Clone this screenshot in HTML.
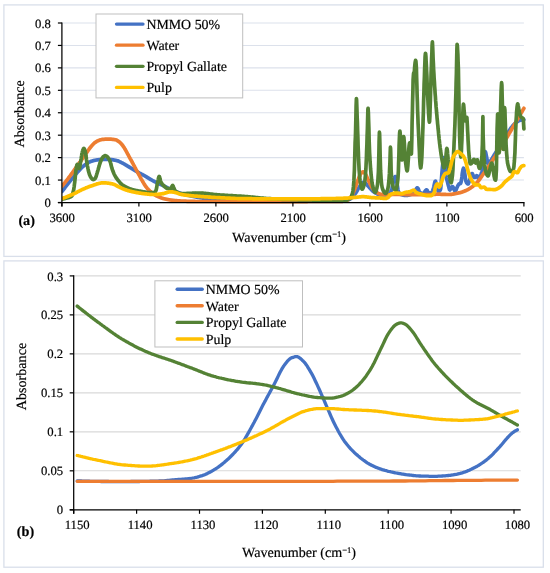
<!DOCTYPE html>
<html lang="en"><head><meta charset="utf-8"><title>FTIR absorbance spectra</title>
<style>
html,body{margin:0;padding:0;background:#fff;}
body{width:550px;height:573px;overflow:hidden;}
svg{display:block;}
text{font-family:"Liberation Serif","Times New Roman",Times,serif;fill:#000;stroke:#000;stroke-width:0.18px;text-rendering:geometricPrecision;}
.tk{font-size:12.7px;}
.lg{font-size:13.9px;}
.ttl{font-size:14.1px;}
.sup{font-size:8.6px;}
.pl{font-size:14.2px;font-weight:bold;}
</style></head><body>
<svg width="550" height="573" viewBox="0 0 550 573">
<rect x="0" y="0" width="550" height="573" fill="#fff"/>
<rect x="3.9" y="4.9" width="539.4" height="251.5" fill="#fff" stroke="#D9DFEA" stroke-width="1.3"/>
<rect x="3.9" y="260.9" width="539.4" height="306.3" fill="#fff" stroke="#D9DFEA" stroke-width="1.3"/>
<line x1="61.9" x2="523.9" y1="180.06" y2="180.06" stroke="#DCE1EB" stroke-width="1.1"/>
<line x1="61.9" x2="523.9" y1="157.62" y2="157.62" stroke="#DCE1EB" stroke-width="1.1"/>
<line x1="61.9" x2="523.9" y1="135.19" y2="135.19" stroke="#DCE1EB" stroke-width="1.1"/>
<line x1="61.9" x2="523.9" y1="112.75" y2="112.75" stroke="#DCE1EB" stroke-width="1.1"/>
<line x1="61.9" x2="523.9" y1="90.31" y2="90.31" stroke="#DCE1EB" stroke-width="1.1"/>
<line x1="61.9" x2="523.9" y1="67.88" y2="67.88" stroke="#DCE1EB" stroke-width="1.1"/>
<line x1="61.9" x2="523.9" y1="45.44" y2="45.44" stroke="#DCE1EB" stroke-width="1.1"/>
<line x1="61.9" x2="523.9" y1="23.00" y2="23.00" stroke="#DCE1EB" stroke-width="1.1"/>
<clipPath id="ct"><rect x="62" y="10" width="470" height="200"/></clipPath>
<g clip-path="url(#ct)">
<path d="M61.9,191.6 62.3,191.1 62.7,190.6 63.1,190.0 63.5,189.5 63.9,189.0 64.3,188.5 64.7,188.0 65.1,187.4 65.5,186.9 65.9,186.4 66.3,185.9 66.7,185.4 67.1,184.9 67.5,184.4 67.9,183.9 68.3,183.4 68.7,182.9 69.1,182.4 69.5,181.9 69.9,181.4 70.3,180.9 70.7,180.4 71.1,179.9 71.5,179.4 71.9,178.9 72.3,178.4 72.7,177.9 73.1,177.4 73.5,176.9 73.9,176.4 74.3,175.9 74.7,175.5 75.1,175.0 75.5,174.5 75.9,174.0 76.3,173.6 76.7,173.1 77.1,172.7 77.5,172.2 77.9,171.8 78.3,171.3 78.7,170.9 79.1,170.5 79.5,170.0 79.9,169.6 80.3,169.2 80.7,168.7 81.1,168.3 81.5,167.9 81.9,167.5 82.3,167.1 82.7,166.8 83.1,166.4 83.5,166.1 83.9,165.7 84.3,165.4 84.7,165.1 85.1,164.8 85.5,164.5 85.9,164.2 86.3,163.9 86.7,163.7 87.1,163.4 87.5,163.1 87.9,162.9 88.3,162.6 88.7,162.4 89.1,162.2 89.5,162.0 89.9,161.8 90.3,161.6 90.7,161.5 91.1,161.4 91.5,161.2 91.9,161.1 92.3,161.0 92.7,160.9 93.1,160.7 93.5,160.6 93.9,160.5 94.3,160.4 94.7,160.3 95.1,160.3 95.5,160.2 95.9,160.1 96.3,160.0 96.7,160.0 97.1,159.9 97.5,159.9 97.9,159.8 98.3,159.8 98.7,159.7 99.1,159.7 99.5,159.7 99.9,159.6 100.3,159.6 100.7,159.6 101.1,159.5 101.5,159.5 101.9,159.5 102.3,159.5 102.7,159.5 103.1,159.5 103.5,159.5 103.9,159.5 104.3,159.5 104.7,159.5 105.1,159.5 105.5,159.5 105.9,159.5 106.3,159.5 106.7,159.5 107.1,159.5 107.5,159.5 107.9,159.5 108.3,159.5 108.7,159.5 109.1,159.5 109.5,159.5 109.9,159.5 110.3,159.5 110.7,159.6 111.1,159.6 111.5,159.6 111.9,159.7 112.3,159.7 112.7,159.8 113.1,159.9 113.5,159.9 113.9,160.0 114.3,160.1 114.7,160.2 115.1,160.2 115.5,160.3 115.9,160.4 116.3,160.5 116.7,160.6 117.1,160.7 117.5,160.8 117.9,160.9 118.3,161.1 118.7,161.2 119.1,161.4 119.5,161.6 119.9,161.8 120.3,162.0 120.7,162.2 121.1,162.4 121.5,162.6 121.9,162.8 122.3,163.0 122.7,163.2 123.1,163.4 123.5,163.6 123.9,163.8 124.3,164.1 124.7,164.3 125.1,164.6 125.5,164.8 125.9,165.0 126.3,165.3 126.7,165.5 127.1,165.8 127.5,166.0 127.9,166.3 128.3,166.5 128.7,166.7 129.1,167.0 129.5,167.2 129.9,167.5 130.3,167.7 130.7,167.9 131.1,168.2 131.5,168.4 131.9,168.7 132.3,168.9 132.7,169.2 133.1,169.4 133.5,169.6 133.9,169.9 134.3,170.1 134.7,170.4 135.1,170.6 135.5,170.9 135.9,171.1 136.3,171.3 136.7,171.6 137.1,171.8 137.5,172.0 137.9,172.2 138.3,172.4 138.7,172.6 139.1,172.9 139.5,173.1 139.9,173.3 140.3,173.5 140.7,173.7 141.1,173.9 141.5,174.1 141.9,174.3 142.3,174.5 142.7,174.8 143.1,175.0 143.5,175.2 143.9,175.4 144.3,175.6 144.7,175.8 145.1,176.1 145.5,176.3 145.9,176.5 146.3,176.8 146.7,177.0 147.1,177.3 147.5,177.5 147.9,177.8 148.3,178.0 148.7,178.3 149.1,178.5 149.5,178.8 149.9,179.0 150.3,179.3 150.7,179.5 151.1,179.7 151.5,179.9 151.9,180.2 152.3,180.4 152.7,180.6 153.1,180.8 153.5,181.0 153.9,181.3 154.3,181.5 154.7,181.7 155.1,181.9 155.5,182.1 155.9,182.3 156.3,182.5 156.7,182.7 157.1,182.9 157.5,183.1 157.9,183.3 158.3,183.5 158.7,183.7 159.1,183.8 159.5,184.0 159.9,184.2 160.3,184.4 160.7,184.5 161.1,184.7 161.5,184.9 161.9,185.0 162.3,185.2 162.7,185.4 163.1,185.6 163.5,185.7 163.9,185.9 164.3,186.1 164.7,186.3 165.1,186.5 165.5,186.7 165.9,186.9 166.3,187.1 166.7,187.3 167.1,187.6 167.5,187.8 167.9,188.0 168.3,188.2 168.7,188.4 169.1,188.7 169.5,188.9 169.9,189.1 170.3,189.3 170.7,189.5 171.1,189.7 171.5,189.8 171.9,190.0 172.3,190.2 172.7,190.4 173.1,190.5 173.5,190.7 173.9,190.9 174.3,191.0 174.7,191.2 175.1,191.4 175.5,191.5 175.9,191.7 176.3,191.8 176.7,192.0 177.1,192.1 177.5,192.3 177.9,192.4 178.3,192.5 178.7,192.7 179.1,192.8 179.5,192.9 179.9,193.1 180.3,193.2 180.7,193.3 181.1,193.5 181.5,193.6 181.9,193.7 182.3,193.8 182.7,194.0 183.1,194.1 183.5,194.2 183.9,194.3 184.3,194.4 184.7,194.5 185.1,194.6 185.5,194.7 185.9,194.8 186.3,194.9 186.7,195.0 187.1,195.1 187.5,195.2 187.9,195.3 188.3,195.3 188.7,195.4 189.1,195.5 189.5,195.6 189.9,195.7 190.3,195.8 190.7,195.8 191.1,195.9 191.5,196.0 191.9,196.1 192.3,196.2 192.7,196.3 193.1,196.4 193.5,196.4 193.9,196.5 194.3,196.6 194.7,196.7 195.1,196.8 195.5,196.9 195.9,197.0 196.3,197.0 196.7,197.1 197.1,197.2 197.5,197.3 197.9,197.3 198.3,197.4 198.7,197.5 199.1,197.5 199.5,197.6 199.9,197.7 200.3,197.7 200.7,197.8 201.1,197.8 201.5,197.9 201.9,197.9 202.3,198.0 202.7,198.1 203.1,198.1 203.5,198.2 203.9,198.2 204.3,198.3 204.7,198.3 205.1,198.4 205.5,198.4 205.9,198.5 206.3,198.6 206.7,198.6 207.1,198.7 207.5,198.7 207.9,198.8 208.3,198.8 208.7,198.9 209.1,198.9 209.5,199.0 209.9,199.0 210.3,199.0 210.7,199.1 211.1,199.1 211.5,199.2 211.9,199.2 212.3,199.3 212.7,199.3 213.1,199.3 213.5,199.4 213.9,199.4 214.3,199.4 214.7,199.5 215.1,199.5 215.5,199.5 215.9,199.6 216.3,199.6 216.7,199.6 217.1,199.7 217.5,199.7 217.9,199.7 218.3,199.7 218.7,199.7 219.1,199.8 219.5,199.8 219.9,199.8 220.3,199.8 220.7,199.8 221.1,199.8 221.5,199.9 221.9,199.9 222.3,199.9 222.7,199.9 223.1,199.9 223.5,199.9 223.9,199.9 224.3,200.0 224.7,200.0 225.1,200.0 225.5,200.0 225.9,200.0 226.3,200.0 226.7,200.0 227.1,200.0 227.5,200.1 227.9,200.1 228.3,200.1 228.7,200.1 229.1,200.1 229.5,200.1 229.9,200.1 230.3,200.1 230.7,200.2 231.1,200.2 231.5,200.2 231.9,200.2 232.3,200.2 232.7,200.2 233.1,200.2 233.5,200.2 233.9,200.2 234.3,200.2 234.7,200.3 235.1,200.3 235.5,200.3 235.9,200.3 236.3,200.3 236.7,200.3 237.1,200.3 237.5,200.3 237.9,200.3 238.3,200.3 238.7,200.4 239.1,200.4 239.5,200.4 239.9,200.4 240.3,200.4 240.7,200.4 241.1,200.4 241.5,200.4 241.9,200.4 242.3,200.4 242.7,200.4 243.1,200.4 243.5,200.4 243.9,200.5 244.3,200.5 244.7,200.5 245.1,200.5 245.5,200.5 245.9,200.5 246.3,200.5 246.7,200.5 247.1,200.5 247.5,200.5 247.9,200.5 248.3,200.5 248.7,200.5 249.1,200.5 249.5,200.5 249.9,200.5 250.3,200.5 250.7,200.6 251.1,200.6 251.5,200.6 251.9,200.6 252.3,200.6 252.7,200.6 253.1,200.6 253.5,200.6 253.9,200.6 254.3,200.6 254.7,200.6 255.1,200.6 255.5,200.6 255.9,200.6 256.3,200.6 256.7,200.6 257.1,200.6 257.5,200.6 257.9,200.6 258.3,200.6 258.7,200.6 259.1,200.6 259.5,200.6 259.9,200.6 260.3,200.6 260.7,200.6 261.1,200.6 261.5,200.6 261.9,200.6 262.3,200.6 262.7,200.6 263.1,200.6 263.5,200.6 263.9,200.6 264.3,200.6 264.7,200.6 265.1,200.6 265.5,200.6 265.9,200.6 266.3,200.6 266.7,200.6 267.1,200.6 267.5,200.6 267.9,200.6 268.3,200.6 268.7,200.6 269.1,200.6 269.5,200.6 269.9,200.6 270.3,200.6 270.7,200.6 271.1,200.6 271.5,200.6 271.9,200.6 272.3,200.6 272.7,200.6 273.1,200.6 273.5,200.6 273.9,200.6 274.3,200.6 274.7,200.6 275.1,200.6 275.5,200.6 275.9,200.6 276.3,200.6 276.7,200.6 277.1,200.6 277.5,200.6 277.9,200.6 278.3,200.6 278.7,200.6 279.1,200.6 279.5,200.6 279.9,200.6 280.3,200.6 280.7,200.6 281.1,200.6 281.5,200.6 281.9,200.6 282.3,200.6 282.7,200.6 283.1,200.6 283.5,200.6 283.9,200.6 284.3,200.6 284.7,200.6 285.1,200.6 285.5,200.6 285.9,200.6 286.3,200.6 286.7,200.6 287.1,200.6 287.5,200.6 287.9,200.6 288.3,200.6 288.7,200.6 289.1,200.6 289.5,200.6 289.9,200.6 290.3,200.6 290.7,200.6 291.1,200.6 291.5,200.6 291.9,200.6 292.3,200.6 292.7,200.6 293.1,200.6 293.5,200.6 293.9,200.6 294.3,200.6 294.7,200.6 295.1,200.6 295.5,200.6 295.9,200.6 296.3,200.6 296.7,200.6 297.1,200.6 297.5,200.6 297.9,200.6 298.3,200.6 298.7,200.6 299.1,200.6 299.5,200.6 299.9,200.6 300.3,200.6 300.7,200.6 301.1,200.6 301.5,200.6 301.9,200.6 302.3,200.6 302.7,200.6 303.1,200.6 303.5,200.6 303.9,200.6 304.3,200.6 304.7,200.6 305.1,200.6 305.5,200.6 305.9,200.6 306.3,200.6 306.7,200.6 307.1,200.6 307.5,200.6 307.9,200.6 308.3,200.6 308.7,200.6 309.1,200.6 309.5,200.6 309.9,200.6 310.3,200.6 310.7,200.6 311.1,200.6 311.5,200.6 311.9,200.6 312.3,200.6 312.7,200.6 313.1,200.6 313.5,200.6 313.9,200.6 314.3,200.6 314.7,200.6 315.1,200.6 315.5,200.6 315.9,200.6 316.3,200.6 316.7,200.6 317.1,200.6 317.5,200.6 317.9,200.6 318.3,200.6 318.7,200.6 319.1,200.6 319.5,200.6 319.9,200.6 320.3,200.6 320.7,200.6 321.1,200.6 321.5,200.6 321.9,200.6 322.3,200.6 322.7,200.6 323.1,200.6 323.5,200.6 323.9,200.6 324.3,200.6 324.7,200.6 325.1,200.6 325.5,200.6 325.9,200.6 326.3,200.6 326.7,200.6 327.1,200.6 327.5,200.6 327.9,200.6 328.3,200.6 328.7,200.6 329.1,200.6 329.5,200.6 329.9,200.6 330.3,200.6 330.7,200.6 331.1,200.6 331.5,200.6 331.9,200.6 332.3,200.6 332.7,200.6 333.1,200.6 333.5,200.6 333.9,200.6 334.3,200.6 334.7,200.6 335.1,200.6 335.5,200.6 335.9,200.6 336.3,200.6 336.7,200.6 337.1,200.6 337.5,200.6 337.9,200.6 338.3,200.6 338.7,200.6 339.1,200.6 339.5,200.6 339.9,200.6 340.3,200.6 340.7,200.6 341.1,200.6 341.5,200.6 341.9,200.5 342.3,200.5 342.7,200.5 343.1,200.5 343.5,200.4 343.9,200.4 344.3,200.3 344.7,200.3 345.1,200.2 345.5,200.2 345.9,200.1 346.3,200.0 346.7,200.0 347.1,199.9 347.5,199.8 347.9,199.7 348.3,199.7 348.7,199.6 349.1,199.5 349.5,199.3 349.9,199.2 350.3,198.9 350.7,198.6 351.1,198.3 351.5,198.0 351.9,197.6 352.3,197.1 352.7,196.7 353.1,196.3 353.5,195.8 353.9,195.3 354.3,194.8 354.7,194.4 355.1,193.9 355.5,193.4 355.9,192.8 356.3,192.1 356.7,191.5 357.1,190.8 357.5,190.0 357.9,189.3 358.3,188.6 358.7,187.9 359.1,187.3 359.5,186.7 359.9,186.1 360.3,185.6 360.7,185.1 361.1,184.5 361.5,184.0 361.9,183.5 362.3,183.0 362.7,182.6 363.1,182.3 363.5,182.1 363.9,182.1 364.3,182.2 364.7,182.4 365.1,182.7 365.5,183.1 365.9,183.5 366.3,184.0 366.7,184.5 367.1,185.0 367.5,185.5 367.9,185.9 368.3,186.3 368.7,186.7 369.1,187.1 369.5,187.6 369.9,188.0 370.3,188.5 370.7,188.9 371.1,189.4 371.5,189.8 371.9,190.2 372.3,190.6 372.7,191.0 373.1,191.4 373.5,191.7 373.9,191.9 374.3,192.2 374.7,192.4 375.1,192.7 375.5,192.9 375.9,193.2 376.3,193.4 376.7,193.6 377.1,193.8 377.5,194.0 377.9,194.2 378.3,194.4 378.7,194.5 379.1,194.7 379.5,194.8 379.9,194.9 380.3,195.0 380.7,195.0 381.1,195.0 381.5,195.0 381.9,195.0 382.3,195.0 382.7,195.0 383.1,195.0 383.5,195.0 383.9,194.9 384.3,194.9 384.7,194.9 385.1,194.9 385.5,194.8 385.9,194.8 386.3,194.8 386.7,194.7 387.1,194.7 387.5,194.6 387.9,194.6 388.3,194.5 388.7,194.4 389.1,194.2 389.5,193.8 389.9,193.2 390.3,192.5 390.7,191.8 391.1,190.9 391.5,190.0 391.9,188.7 392.3,187.0 392.7,185.0 393.1,183.0 393.5,181.3 393.9,180.0 394.3,178.5 394.7,177.3 395.1,176.5 395.5,176.6 395.9,177.7 396.3,179.5 396.7,181.5 397.1,183.7 397.5,186.5 397.9,189.3 398.3,191.2 398.7,192.1 399.1,192.7 399.5,193.3 399.9,193.8 400.3,194.1 400.7,194.4 401.1,194.5 401.5,194.7 401.9,194.8 402.3,194.9 402.7,195.0 403.1,195.1 403.5,195.2 403.9,195.3 404.3,195.4 404.7,195.4 405.1,195.5 405.5,195.5 405.9,195.5 406.3,195.5 406.7,195.5 407.1,195.4 407.5,195.4 407.9,195.3 408.3,195.2 408.7,195.1 409.1,195.0 409.5,194.9 409.9,194.8 410.3,194.7 410.7,194.5 411.1,194.4 411.5,194.2 411.9,194.0 412.3,193.8 412.7,193.6 413.1,193.2 413.5,192.8 413.9,192.3 414.3,191.8 414.7,191.4 415.1,190.9 415.5,190.3 415.9,189.6 416.3,188.9 416.7,188.3 417.1,187.9 417.5,187.8 417.9,188.2 418.3,189.0 418.7,190.0 419.1,191.0 419.5,191.9 419.9,192.4 420.3,192.7 420.7,192.9 421.1,193.1 421.5,193.2 421.9,193.3 422.3,193.4 422.7,193.5 423.1,193.5 423.5,193.3 423.9,192.9 424.3,192.4 424.7,191.8 425.1,191.2 425.5,190.6 425.9,190.2 426.3,189.9 426.7,189.8 427.1,190.2 427.5,191.0 427.9,191.9 428.3,192.7 428.7,193.3 429.1,193.5 429.5,193.5 429.9,193.3 430.3,193.2 430.7,193.0 431.1,192.7 431.5,192.4 431.9,192.1 432.3,191.6 432.7,190.6 433.1,189.3 433.5,188.0 433.9,186.4 434.3,184.5 434.7,182.6 435.1,181.3 435.5,181.1 435.9,182.3 436.3,184.5 436.7,186.8 437.1,188.3 437.5,189.6 437.9,190.7 438.3,191.4 438.7,191.5 439.1,191.3 439.5,191.0 439.9,190.5 440.3,189.9 440.7,188.6 441.1,184.4 441.5,178.7 441.9,173.1 442.3,168.7 442.7,164.4 443.1,161.1 443.5,159.0 443.9,157.7 444.3,158.1 444.7,160.0 445.1,163.5 445.5,169.8 445.9,175.2 446.3,177.6 446.7,179.2 447.1,180.6 447.5,182.1 447.9,183.7 448.3,185.3 448.7,186.7 449.1,188.4 449.5,189.6 449.9,190.0 450.3,189.4 450.7,188.4 451.1,187.6 451.5,187.2 451.9,186.9 452.3,186.7 452.7,186.6 453.1,187.1 453.5,188.3 453.9,189.3 454.3,190.0 454.7,190.6 455.1,190.9 455.5,190.9 455.9,190.2 456.3,189.2 456.7,188.2 457.1,187.3 457.5,186.5 457.9,185.7 458.3,185.0 458.7,184.3 459.1,183.9 459.5,183.7 459.9,183.7 460.3,183.6 460.7,183.2 461.1,181.9 461.5,180.0 461.9,177.0 462.3,173.3 462.7,171.0 463.1,169.1 463.5,168.1 463.9,168.6 464.3,170.6 464.7,173.0 465.1,175.8 465.5,178.9 465.9,181.2 466.3,182.1 466.7,182.9 467.1,183.4 467.5,183.8 467.9,184.0 468.3,183.8 468.7,183.0 469.1,181.8 469.5,180.5 469.9,179.3 470.3,178.1 470.7,176.7 471.1,175.4 471.5,174.2 471.9,173.5 472.3,173.5 472.7,174.4 473.1,175.6 473.5,176.5 473.9,177.0 474.3,177.4 474.7,177.5 475.1,177.2 475.5,176.8 475.9,176.2 476.3,175.8 476.7,175.6 477.1,176.0 477.5,176.9 477.9,177.9 478.3,178.3 478.7,178.1 479.1,177.6 479.5,176.9 479.9,176.2 480.3,175.5 480.7,174.8 481.1,174.0 481.5,173.0 481.9,171.8 482.3,170.2 482.7,167.8 483.1,164.9 483.5,162.0 483.9,159.3 484.3,156.2 484.7,153.3 485.1,151.6 485.5,151.9 485.9,153.5 486.3,155.6 486.7,157.5 487.1,159.8 487.5,162.1 487.9,163.4 488.3,163.4 488.7,163.2 489.1,162.8 489.5,162.3 489.9,161.8 490.3,161.3 490.7,160.7 491.1,160.2 491.5,159.6 491.9,158.9 492.3,158.2 492.7,157.5 493.1,156.8 493.5,156.1 493.9,155.5 494.3,154.9 494.7,154.2 495.1,153.6 495.5,153.0 495.9,152.4 496.3,151.8 496.7,151.2 497.1,150.6 497.5,150.0 497.9,149.4 498.3,148.8 498.7,148.2 499.1,147.6 499.5,147.0 499.9,146.3 500.3,145.7 500.7,145.0 501.1,144.4 501.5,143.7 501.9,143.0 502.3,142.3 502.7,141.6 503.1,140.9 503.5,140.2 503.9,139.5 504.3,138.8 504.7,138.1 505.1,137.4 505.5,136.7 505.9,136.0 506.3,135.3 506.7,134.7 507.1,134.0 507.5,133.4 507.9,132.8 508.3,132.1 508.7,131.5 509.1,130.9 509.5,130.3 509.9,129.6 510.3,129.0 510.7,128.5 511.1,127.9 511.5,127.3 511.9,126.8 512.3,126.3 512.7,125.8 513.1,125.4 513.5,124.9 513.9,124.5 514.3,124.1 514.7,123.7 515.1,123.3 515.5,122.9 515.9,122.6 516.3,122.3 516.7,122.0 517.1,121.7 517.5,121.5 517.9,121.3 518.3,121.1 518.7,120.9 519.1,120.7 519.5,120.5 519.9,120.4 520.3,120.3 520.7,120.1 521.1,120.1 521.5,120.0 521.9,119.9 522.3,119.8 522.7,119.7 523.1,119.7 523.5,119.6 523.9,119.6 523.9,119.6" fill="none" stroke="#4472C4" stroke-width="3.7" stroke-linecap="round" stroke-linejoin="round"/>
<path d="M61.9,186.3 62.3,185.8 62.7,185.3 63.1,184.8 63.5,184.3 63.9,183.9 64.3,183.4 64.7,182.9 65.1,182.4 65.5,181.8 65.9,181.3 66.3,180.8 66.7,180.3 67.1,179.8 67.5,179.3 67.9,178.8 68.3,178.2 68.7,177.7 69.1,177.2 69.5,176.6 69.9,176.1 70.3,175.6 70.7,175.0 71.1,174.5 71.5,174.0 71.9,173.4 72.3,172.9 72.7,172.3 73.1,171.7 73.5,171.2 73.9,170.6 74.3,170.0 74.7,169.4 75.1,168.9 75.5,168.3 75.9,167.7 76.3,167.1 76.7,166.6 77.1,166.0 77.5,165.4 77.9,164.9 78.3,164.3 78.7,163.8 79.1,163.2 79.5,162.7 79.9,162.1 80.3,161.6 80.7,161.0 81.1,160.5 81.5,159.9 81.9,159.4 82.3,158.8 82.7,158.3 83.1,157.7 83.5,157.2 83.9,156.6 84.3,156.1 84.7,155.5 85.1,154.9 85.5,154.3 85.9,153.7 86.3,153.1 86.7,152.5 87.1,152.0 87.5,151.4 87.9,150.8 88.3,150.2 88.7,149.6 89.1,149.1 89.5,148.5 89.9,148.0 90.3,147.5 90.7,147.0 91.1,146.5 91.5,146.1 91.9,145.6 92.3,145.1 92.7,144.7 93.1,144.3 93.5,143.9 93.9,143.5 94.3,143.1 94.7,142.8 95.1,142.5 95.5,142.2 95.9,142.0 96.3,141.7 96.7,141.4 97.1,141.2 97.5,141.0 97.9,140.8 98.3,140.6 98.7,140.5 99.1,140.3 99.5,140.2 99.9,140.0 100.3,139.9 100.7,139.8 101.1,139.6 101.5,139.6 101.9,139.5 102.3,139.4 102.7,139.4 103.1,139.4 103.5,139.3 103.9,139.3 104.3,139.3 104.7,139.2 105.1,139.2 105.5,139.2 105.9,139.2 106.3,139.2 106.7,139.1 107.1,139.1 107.5,139.1 107.9,139.1 108.3,139.1 108.7,139.1 109.1,139.1 109.5,139.1 109.9,139.1 110.3,139.1 110.7,139.2 111.1,139.2 111.5,139.2 111.9,139.3 112.3,139.3 112.7,139.3 113.1,139.4 113.5,139.5 113.9,139.5 114.3,139.6 114.7,139.7 115.1,139.7 115.5,139.8 115.9,139.9 116.3,140.0 116.7,140.2 117.1,140.4 117.5,140.7 117.9,141.0 118.3,141.2 118.7,141.5 119.1,141.8 119.5,142.1 119.9,142.4 120.3,142.8 120.7,143.2 121.1,143.6 121.5,144.1 121.9,144.5 122.3,145.0 122.7,145.5 123.1,146.1 123.5,146.7 123.9,147.3 124.3,147.9 124.7,148.6 125.1,149.3 125.5,149.9 125.9,150.7 126.3,151.4 126.7,152.1 127.1,152.8 127.5,153.6 127.9,154.3 128.3,155.0 128.7,155.8 129.1,156.5 129.5,157.3 129.9,158.0 130.3,158.8 130.7,159.5 131.1,160.2 131.5,161.0 131.9,161.7 132.3,162.5 132.7,163.2 133.1,163.9 133.5,164.7 133.9,165.4 134.3,166.1 134.7,166.9 135.1,167.6 135.5,168.3 135.9,169.1 136.3,169.8 136.7,170.6 137.1,171.3 137.5,172.0 137.9,172.8 138.3,173.5 138.7,174.3 139.1,175.0 139.5,175.7 139.9,176.5 140.3,177.3 140.7,178.0 141.1,178.8 141.5,179.5 141.9,180.2 142.3,180.9 142.7,181.6 143.1,182.2 143.5,182.9 143.9,183.6 144.3,184.3 144.7,184.9 145.1,185.5 145.5,186.1 145.9,186.7 146.3,187.2 146.7,187.7 147.1,188.2 147.5,188.6 147.9,189.1 148.3,189.5 148.7,189.9 149.1,190.3 149.5,190.7 149.9,191.1 150.3,191.4 150.7,191.8 151.1,192.1 151.5,192.4 151.9,192.8 152.3,193.1 152.7,193.4 153.1,193.7 153.5,194.0 153.9,194.3 154.3,194.5 154.7,194.8 155.1,195.1 155.5,195.3 155.9,195.5 156.3,195.7 156.7,196.0 157.1,196.1 157.5,196.3 157.9,196.5 158.3,196.7 158.7,196.9 159.1,197.0 159.5,197.2 159.9,197.4 160.3,197.5 160.7,197.7 161.1,197.8 161.5,198.0 161.9,198.1 162.3,198.2 162.7,198.3 163.1,198.5 163.5,198.6 163.9,198.7 164.3,198.8 164.7,198.9 165.1,199.0 165.5,199.0 165.9,199.1 166.3,199.2 166.7,199.3 167.1,199.4 167.5,199.5 167.9,199.5 168.3,199.6 168.7,199.7 169.1,199.8 169.5,199.8 169.9,199.9 170.3,200.0 170.7,200.0 171.1,200.1 171.5,200.1 171.9,200.2 172.3,200.2 172.7,200.3 173.1,200.3 173.5,200.4 173.9,200.4 174.3,200.5 174.7,200.5 175.1,200.5 175.5,200.6 175.9,200.6 176.3,200.7 176.7,200.7 177.1,200.7 177.5,200.8 177.9,200.8 178.3,200.8 178.7,200.9 179.1,200.9 179.5,200.9 179.9,200.9 180.3,201.0 180.7,201.0 181.1,201.0 181.5,201.0 181.9,201.1 182.3,201.1 182.7,201.1 183.1,201.1 183.5,201.1 183.9,201.2 184.3,201.2 184.7,201.2 185.1,201.2 185.5,201.2 185.9,201.2 186.3,201.2 186.7,201.3 187.1,201.3 187.5,201.3 187.9,201.3 188.3,201.3 188.7,201.3 189.1,201.3 189.5,201.3 189.9,201.3 190.3,201.4 190.7,201.4 191.1,201.4 191.5,201.4 191.9,201.4 192.3,201.4 192.7,201.4 193.1,201.4 193.5,201.4 193.9,201.4 194.3,201.4 194.7,201.4 195.1,201.5 195.5,201.5 195.9,201.5 196.3,201.5 196.7,201.5 197.1,201.5 197.5,201.5 197.9,201.5 198.3,201.5 198.7,201.5 199.1,201.5 199.5,201.5 199.9,201.5 200.3,201.5 200.7,201.5 201.1,201.5 201.5,201.5 201.9,201.5 202.3,201.5 202.7,201.5 203.1,201.5 203.5,201.5 203.9,201.5 204.3,201.5 204.7,201.5 205.1,201.5 205.5,201.5 205.9,201.5 206.3,201.5 206.7,201.5 207.1,201.5 207.5,201.5 207.9,201.5 208.3,201.5 208.7,201.5 209.1,201.5 209.5,201.5 209.9,201.5 210.3,201.5 210.7,201.5 211.1,201.5 211.5,201.5 211.9,201.5 212.3,201.5 212.7,201.5 213.1,201.5 213.5,201.5 213.9,201.5 214.3,201.5 214.7,201.5 215.1,201.5 215.5,201.5 215.9,201.6 216.3,201.6 216.7,201.6 217.1,201.6 217.5,201.6 217.9,201.6 218.3,201.6 218.7,201.6 219.1,201.6 219.5,201.6 219.9,201.6 220.3,201.6 220.7,201.6 221.1,201.6 221.5,201.6 221.9,201.6 222.3,201.6 222.7,201.6 223.1,201.6 223.5,201.6 223.9,201.6 224.3,201.6 224.7,201.6 225.1,201.6 225.5,201.6 225.9,201.6 226.3,201.6 226.7,201.6 227.1,201.6 227.5,201.6 227.9,201.6 228.3,201.6 228.7,201.6 229.1,201.6 229.5,201.6 229.9,201.6 230.3,201.6 230.7,201.6 231.1,201.6 231.5,201.6 231.9,201.6 232.3,201.6 232.7,201.6 233.1,201.6 233.5,201.6 233.9,201.6 234.3,201.6 234.7,201.6 235.1,201.6 235.5,201.6 235.9,201.6 236.3,201.6 236.7,201.6 237.1,201.6 237.5,201.6 237.9,201.6 238.3,201.6 238.7,201.6 239.1,201.6 239.5,201.6 239.9,201.6 240.3,201.6 240.7,201.6 241.1,201.6 241.5,201.6 241.9,201.6 242.3,201.6 242.7,201.6 243.1,201.6 243.5,201.6 243.9,201.6 244.3,201.6 244.7,201.6 245.1,201.6 245.5,201.6 245.9,201.6 246.3,201.6 246.7,201.6 247.1,201.6 247.5,201.6 247.9,201.6 248.3,201.6 248.7,201.6 249.1,201.6 249.5,201.6 249.9,201.6 250.3,201.6 250.7,201.6 251.1,201.6 251.5,201.6 251.9,201.6 252.3,201.6 252.7,201.6 253.1,201.6 253.5,201.6 253.9,201.6 254.3,201.6 254.7,201.6 255.1,201.6 255.5,201.6 255.9,201.6 256.3,201.6 256.7,201.6 257.1,201.6 257.5,201.6 257.9,201.6 258.3,201.6 258.7,201.6 259.1,201.6 259.5,201.6 259.9,201.6 260.3,201.6 260.7,201.6 261.1,201.6 261.5,201.6 261.9,201.6 262.3,201.6 262.7,201.6 263.1,201.6 263.5,201.6 263.9,201.6 264.3,201.6 264.7,201.6 265.1,201.6 265.5,201.6 265.9,201.6 266.3,201.6 266.7,201.6 267.1,201.6 267.5,201.6 267.9,201.6 268.3,201.6 268.7,201.6 269.1,201.6 269.5,201.6 269.9,201.6 270.3,201.6 270.7,201.6 271.1,201.6 271.5,201.6 271.9,201.6 272.3,201.6 272.7,201.6 273.1,201.6 273.5,201.6 273.9,201.6 274.3,201.6 274.7,201.6 275.1,201.6 275.5,201.6 275.9,201.6 276.3,201.6 276.7,201.6 277.1,201.6 277.5,201.6 277.9,201.6 278.3,201.6 278.7,201.6 279.1,201.6 279.5,201.6 279.9,201.6 280.3,201.6 280.7,201.6 281.1,201.6 281.5,201.6 281.9,201.6 282.3,201.6 282.7,201.6 283.1,201.6 283.5,201.6 283.9,201.6 284.3,201.6 284.7,201.6 285.1,201.6 285.5,201.6 285.9,201.6 286.3,201.6 286.7,201.6 287.1,201.6 287.5,201.6 287.9,201.6 288.3,201.6 288.7,201.6 289.1,201.6 289.5,201.6 289.9,201.6 290.3,201.6 290.7,201.6 291.1,201.6 291.5,201.6 291.9,201.6 292.3,201.6 292.7,201.6 293.1,201.6 293.5,201.6 293.9,201.6 294.3,201.6 294.7,201.6 295.1,201.6 295.5,201.6 295.9,201.6 296.3,201.6 296.7,201.6 297.1,201.6 297.5,201.6 297.9,201.6 298.3,201.6 298.7,201.6 299.1,201.6 299.5,201.6 299.9,201.6 300.3,201.6 300.7,201.6 301.1,201.6 301.5,201.6 301.9,201.6 302.3,201.6 302.7,201.6 303.1,201.6 303.5,201.6 303.9,201.6 304.3,201.6 304.7,201.6 305.1,201.6 305.5,201.6 305.9,201.6 306.3,201.6 306.7,201.6 307.1,201.6 307.5,201.5 307.9,201.5 308.3,201.5 308.7,201.5 309.1,201.5 309.5,201.5 309.9,201.5 310.3,201.5 310.7,201.5 311.1,201.5 311.5,201.5 311.9,201.5 312.3,201.5 312.7,201.5 313.1,201.5 313.5,201.5 313.9,201.5 314.3,201.5 314.7,201.5 315.1,201.5 315.5,201.5 315.9,201.5 316.3,201.5 316.7,201.5 317.1,201.5 317.5,201.5 317.9,201.5 318.3,201.5 318.7,201.5 319.1,201.5 319.5,201.5 319.9,201.5 320.3,201.5 320.7,201.5 321.1,201.5 321.5,201.5 321.9,201.5 322.3,201.5 322.7,201.5 323.1,201.5 323.5,201.5 323.9,201.5 324.3,201.5 324.7,201.5 325.1,201.5 325.5,201.5 325.9,201.5 326.3,201.5 326.7,201.5 327.1,201.5 327.5,201.5 327.9,201.5 328.3,201.5 328.7,201.5 329.1,201.5 329.5,201.5 329.9,201.5 330.3,201.5 330.7,201.5 331.1,201.5 331.5,201.5 331.9,201.4 332.3,201.4 332.7,201.4 333.1,201.4 333.5,201.4 333.9,201.4 334.3,201.4 334.7,201.4 335.1,201.4 335.5,201.4 335.9,201.4 336.3,201.4 336.7,201.4 337.1,201.4 337.5,201.4 337.9,201.4 338.3,201.4 338.7,201.4 339.1,201.4 339.5,201.4 339.9,201.4 340.3,201.4 340.7,201.4 341.1,201.4 341.5,201.4 341.9,201.3 342.3,201.3 342.7,201.3 343.1,201.2 343.5,201.2 343.9,201.1 344.3,201.1 344.7,201.0 345.1,201.0 345.5,200.9 345.9,200.8 346.3,200.7 346.7,200.6 347.1,200.4 347.5,200.2 347.9,199.9 348.3,199.6 348.7,199.2 349.1,198.9 349.5,198.5 349.9,198.1 350.3,197.7 350.7,197.2 351.1,196.6 351.5,196.0 351.9,195.3 352.3,194.5 352.7,193.7 353.1,192.9 353.5,192.1 353.9,191.2 354.3,190.3 354.7,189.3 355.1,188.3 355.5,187.1 355.9,185.9 356.3,184.7 356.7,183.5 357.1,182.4 357.5,181.3 357.9,180.2 358.3,179.3 358.7,178.3 359.1,177.2 359.5,176.3 359.9,175.4 360.3,174.6 360.7,173.9 361.1,173.4 361.5,172.9 361.9,172.5 362.3,172.2 362.7,172.0 363.1,171.9 363.5,172.0 363.9,172.3 364.3,172.7 364.7,173.2 365.1,173.6 365.5,174.2 365.9,174.9 366.3,175.7 366.7,176.6 367.1,177.5 367.5,178.4 367.9,179.3 368.3,180.1 368.7,181.0 369.1,181.8 369.5,182.7 369.9,183.6 370.3,184.4 370.7,185.2 371.1,186.0 371.5,186.7 371.9,187.4 372.3,187.9 372.7,188.5 373.1,189.0 373.5,189.5 373.9,190.0 374.3,190.5 374.7,190.9 375.1,191.3 375.5,191.6 375.9,191.9 376.3,192.2 376.7,192.5 377.1,192.7 377.5,192.9 377.9,193.2 378.3,193.4 378.7,193.6 379.1,193.8 379.5,193.9 379.9,194.1 380.3,194.2 380.7,194.3 381.1,194.3 381.5,194.4 381.9,194.4 382.3,194.5 382.7,194.5 383.1,194.5 383.5,194.6 383.9,194.6 384.3,194.6 384.7,194.7 385.1,194.7 385.5,194.7 385.9,194.7 386.3,194.8 386.7,194.8 387.1,194.8 387.5,194.8 387.9,194.8 388.3,194.8 388.7,194.8 389.1,194.8 389.5,194.7 389.9,194.7 390.3,194.7 390.7,194.6 391.1,194.6 391.5,194.6 391.9,194.5 392.3,194.5 392.7,194.4 393.1,194.4 393.5,194.4 393.9,194.3 394.3,194.3 394.7,194.3 395.1,194.3 395.5,194.3 395.9,194.3 396.3,194.3 396.7,194.3 397.1,194.3 397.5,194.3 397.9,194.3 398.3,194.3 398.7,194.3 399.1,194.4 399.5,194.4 399.9,194.4 400.3,194.4 400.7,194.4 401.1,194.4 401.5,194.4 401.9,194.4 402.3,194.5 402.7,194.5 403.1,194.5 403.5,194.5 403.9,194.5 404.3,194.5 404.7,194.5 405.1,194.5 405.5,194.6 405.9,194.6 406.3,194.6 406.7,194.6 407.1,194.6 407.5,194.6 407.9,194.6 408.3,194.6 408.7,194.7 409.1,194.7 409.5,194.7 409.9,194.7 410.3,194.7 410.7,194.7 411.1,194.7 411.5,194.7 411.9,194.7 412.3,194.7 412.7,194.7 413.1,194.7 413.5,194.7 413.9,194.7 414.3,194.7 414.7,194.7 415.1,194.7 415.5,194.7 415.9,194.7 416.3,194.7 416.7,194.7 417.1,194.7 417.5,194.7 417.9,194.7 418.3,194.7 418.7,194.7 419.1,194.7 419.5,194.7 419.9,194.7 420.3,194.7 420.7,194.7 421.1,194.7 421.5,194.7 421.9,194.7 422.3,194.7 422.7,194.7 423.1,194.7 423.5,194.7 423.9,194.7 424.3,194.7 424.7,194.7 425.1,194.6 425.5,194.6 425.9,194.6 426.3,194.6 426.7,194.6 427.1,194.6 427.5,194.6 427.9,194.6 428.3,194.6 428.7,194.6 429.1,194.6 429.5,194.6 429.9,194.6 430.3,194.6 430.7,194.6 431.1,194.6 431.5,194.5 431.9,194.5 432.3,194.5 432.7,194.5 433.1,194.4 433.5,194.4 433.9,194.4 434.3,194.3 434.7,194.3 435.1,194.3 435.5,194.3 435.9,194.2 436.3,194.2 436.7,194.2 437.1,194.2 437.5,194.2 437.9,194.2 438.3,194.2 438.7,194.2 439.1,194.2 439.5,194.2 439.9,194.2 440.3,194.2 440.7,194.3 441.1,194.3 441.5,194.3 441.9,194.3 442.3,194.3 442.7,194.3 443.1,194.4 443.5,194.4 443.9,194.4 444.3,194.4 444.7,194.4 445.1,194.4 445.5,194.4 445.9,194.5 446.3,194.5 446.7,194.5 447.1,194.5 447.5,194.5 447.9,194.5 448.3,194.5 448.7,194.5 449.1,194.5 449.5,194.5 449.9,194.5 450.3,194.4 450.7,194.4 451.1,194.3 451.5,194.3 451.9,194.3 452.3,194.2 452.7,194.1 453.1,194.1 453.5,194.0 453.9,193.9 454.3,193.9 454.7,193.8 455.1,193.7 455.5,193.6 455.9,193.5 456.3,193.5 456.7,193.4 457.1,193.3 457.5,193.2 457.9,193.1 458.3,193.0 458.7,192.9 459.1,192.8 459.5,192.8 459.9,192.7 460.3,192.6 460.7,192.5 461.1,192.3 461.5,192.2 461.9,192.1 462.3,192.0 462.7,191.8 463.1,191.7 463.5,191.5 463.9,191.4 464.3,191.2 464.7,191.1 465.1,190.9 465.5,190.8 465.9,190.6 466.3,190.4 466.7,190.2 467.1,190.0 467.5,189.8 467.9,189.6 468.3,189.4 468.7,189.1 469.1,188.9 469.5,188.6 469.9,188.4 470.3,188.1 470.7,187.9 471.1,187.6 471.5,187.3 471.9,187.0 472.3,186.7 472.7,186.4 473.1,186.1 473.5,185.7 473.9,185.4 474.3,185.0 474.7,184.7 475.1,184.3 475.5,183.9 475.9,183.6 476.3,183.2 476.7,182.8 477.1,182.3 477.5,181.9 477.9,181.5 478.3,181.0 478.7,180.5 479.1,180.0 479.5,179.5 479.9,178.9 480.3,178.4 480.7,177.8 481.1,177.2 481.5,176.6 481.9,176.0 482.3,175.4 482.7,174.9 483.1,174.3 483.5,173.7 483.9,173.2 484.3,172.6 484.7,172.1 485.1,171.5 485.5,171.0 485.9,170.4 486.3,169.8 486.7,169.3 487.1,168.7 487.5,168.1 487.9,167.6 488.3,167.0 488.7,166.4 489.1,165.8 489.5,165.2 489.9,164.6 490.3,164.0 490.7,163.3 491.1,162.7 491.5,162.1 491.9,161.4 492.3,160.8 492.7,160.2 493.1,159.5 493.5,158.9 493.9,158.3 494.3,157.7 494.7,157.1 495.1,156.5 495.5,155.8 495.9,155.2 496.3,154.6 496.7,154.0 497.1,153.4 497.5,152.8 497.9,152.2 498.3,151.6 498.7,151.0 499.1,150.4 499.5,149.7 499.9,149.1 500.3,148.5 500.7,147.8 501.1,147.2 501.5,146.5 501.9,145.9 502.3,145.2 502.7,144.6 503.1,143.9 503.5,143.3 503.9,142.6 504.3,141.9 504.7,141.2 505.1,140.6 505.5,139.9 505.9,139.2 506.3,138.5 506.7,137.8 507.1,137.2 507.5,136.5 507.9,135.8 508.3,135.1 508.7,134.4 509.1,133.7 509.5,133.0 509.9,132.3 510.3,131.7 510.7,131.0 511.1,130.3 511.5,129.6 511.9,128.9 512.3,128.2 512.7,127.5 513.1,126.9 513.5,126.2 513.9,125.5 514.3,124.8 514.7,124.1 515.1,123.4 515.5,122.8 515.9,122.1 516.3,121.4 516.7,120.7 517.1,120.0 517.5,119.3 517.9,118.6 518.3,118.0 518.7,117.3 519.1,116.6 519.5,115.9 519.9,115.2 520.3,114.5 520.7,113.8 521.1,113.1 521.5,112.4 521.9,111.8 522.3,111.1 522.7,110.4 523.1,109.7 523.5,109.0 523.9,108.3 523.9,108.3" fill="none" stroke="#ED7D31" stroke-width="3.7" stroke-linecap="round" stroke-linejoin="round"/>
<path d="M61.9,199.2 62.1,199.2 62.4,199.1 62.6,199.0 62.9,199.0 63.1,198.9 63.4,198.9 63.6,198.8 63.9,198.8 64.2,198.7 64.4,198.6 64.7,198.6 64.9,198.5 65.2,198.4 65.4,198.4 65.7,198.3 65.9,198.2 66.2,198.2 66.4,198.1 66.7,198.0 66.9,198.0 67.2,197.9 67.4,197.9 67.7,197.8 67.9,197.7 68.2,197.7 68.4,197.6 68.7,197.6 68.9,197.5 69.2,197.4 69.4,197.3 69.7,197.2 69.9,197.1 70.2,197.0 70.4,196.9 70.7,196.8 70.9,196.7 71.2,196.5 71.4,196.3 71.7,196.2 71.9,195.8 72.2,195.3 72.4,194.7 72.7,193.9 72.9,193.0 73.2,192.0 73.4,191.0 73.7,189.8 73.9,188.2 74.2,186.5 74.4,184.6 74.7,182.6 74.9,180.3 75.2,177.8 75.4,175.1 75.7,172.5 75.9,170.4 76.2,168.7 76.4,167.3 76.7,165.9 76.9,164.9 77.2,164.4 77.4,164.6 77.7,165.1 77.9,165.9 78.2,166.7 78.4,167.2 78.7,167.8 78.9,168.2 79.2,168.5 79.4,168.3 79.7,167.4 79.9,166.0 80.2,164.5 80.4,163.0 80.7,161.7 80.9,160.2 81.2,158.5 81.4,156.9 81.7,155.2 81.9,153.8 82.2,152.6 82.4,151.7 82.7,150.8 82.9,150.0 83.2,149.3 83.4,148.8 83.7,148.5 83.9,148.4 84.2,148.7 84.4,149.2 84.7,149.8 84.9,150.6 85.2,151.5 85.4,152.4 85.7,153.7 85.9,155.4 86.2,157.3 86.4,159.3 86.7,161.2 86.9,162.9 87.2,164.4 87.4,165.8 87.7,167.1 87.9,168.4 88.2,169.7 88.4,170.8 88.7,171.8 88.9,172.6 89.2,173.4 89.4,174.2 89.7,174.9 89.9,175.5 90.2,176.1 90.4,176.6 90.7,177.1 90.9,177.4 91.2,177.8 91.4,178.1 91.7,178.5 91.9,178.8 92.2,179.0 92.4,179.3 92.7,179.4 92.9,179.5 93.2,179.6 93.4,179.6 93.7,179.5 93.9,179.4 94.2,179.2 94.4,179.1 94.7,178.8 94.9,178.6 95.2,178.4 95.4,178.0 95.7,177.5 95.9,176.9 96.2,176.2 96.4,175.4 96.7,174.5 96.9,173.6 97.2,172.8 97.4,172.0 97.7,171.2 97.9,170.4 98.2,169.5 98.4,168.6 98.7,167.7 98.9,166.8 99.2,165.9 99.4,165.1 99.7,164.2 99.9,163.5 100.2,162.7 100.4,162.0 100.7,161.4 100.9,160.8 101.2,160.3 101.4,159.7 101.7,159.1 101.9,158.6 102.2,158.2 102.4,157.7 102.7,157.4 102.9,157.1 103.2,156.9 103.4,156.6 103.7,156.4 103.9,156.2 104.2,156.1 104.4,155.9 104.7,155.8 104.9,155.7 105.2,155.7 105.4,155.7 105.7,155.8 105.9,155.9 106.2,156.0 106.4,156.1 106.7,156.3 106.9,156.5 107.2,156.7 107.4,156.9 107.7,157.1 107.9,157.4 108.2,157.7 108.4,158.1 108.7,158.5 108.9,158.9 109.2,159.4 109.4,159.9 109.7,160.5 109.9,161.0 110.2,161.7 110.4,162.5 110.7,163.4 110.9,164.4 111.2,165.4 111.4,166.4 111.7,167.3 111.9,168.2 112.2,169.1 112.4,169.8 112.7,170.5 112.9,171.1 113.2,171.8 113.4,172.4 113.7,173.0 113.9,173.6 114.2,174.1 114.4,174.6 114.7,175.1 114.9,175.6 115.2,176.1 115.4,176.5 115.7,176.9 115.9,177.3 116.2,177.7 116.4,178.1 116.7,178.4 116.9,178.8 117.2,179.1 117.4,179.4 117.7,179.8 117.9,180.1 118.2,180.4 118.4,180.7 118.7,181.0 118.9,181.3 119.2,181.6 119.4,181.9 119.7,182.2 119.9,182.5 120.2,182.8 120.4,183.1 120.7,183.3 120.9,183.6 121.2,183.8 121.4,184.1 121.7,184.3 121.9,184.5 122.2,184.7 122.4,184.9 122.7,185.0 122.9,185.2 123.2,185.4 123.4,185.5 123.7,185.7 123.9,185.9 124.2,186.0 124.4,186.2 124.7,186.3 124.9,186.5 125.2,186.6 125.4,186.8 125.7,186.9 125.9,187.0 126.2,187.2 126.4,187.3 126.7,187.4 126.9,187.5 127.2,187.7 127.4,187.8 127.7,187.9 127.9,188.0 128.2,188.1 128.4,188.2 128.7,188.3 128.9,188.4 129.2,188.5 129.4,188.6 129.7,188.7 129.9,188.8 130.2,188.9 130.4,189.0 130.7,189.1 130.9,189.1 131.2,189.2 131.4,189.3 131.7,189.4 131.9,189.4 132.2,189.5 132.4,189.6 132.7,189.7 132.9,189.7 133.2,189.8 133.4,189.9 133.7,189.9 133.9,190.0 134.2,190.0 134.4,190.1 134.7,190.2 134.9,190.2 135.2,190.3 135.4,190.3 135.7,190.4 135.9,190.4 136.2,190.5 136.4,190.5 136.7,190.6 136.9,190.6 137.2,190.7 137.4,190.7 137.7,190.8 137.9,190.8 138.2,190.9 138.4,190.9 138.7,191.0 138.9,191.0 139.2,191.1 139.4,191.1 139.7,191.1 139.9,191.2 140.2,191.2 140.4,191.3 140.7,191.3 140.9,191.4 141.2,191.4 141.4,191.4 141.7,191.5 141.9,191.5 142.2,191.6 142.4,191.6 142.7,191.7 142.9,191.7 143.2,191.8 143.4,191.8 143.7,191.8 143.9,191.9 144.2,191.9 144.4,192.0 144.7,192.0 144.9,192.1 145.2,192.1 145.4,192.2 145.7,192.2 145.9,192.3 146.2,192.3 146.4,192.4 146.7,192.4 146.9,192.4 147.2,192.5 147.4,192.5 147.7,192.5 147.9,192.6 148.2,192.6 148.4,192.6 148.7,192.6 148.9,192.7 149.2,192.7 149.4,192.7 149.7,192.7 149.9,192.7 150.2,192.7 150.4,192.7 150.7,192.7 150.9,192.7 151.2,192.7 151.4,192.7 151.7,192.7 151.9,192.7 152.2,192.7 152.4,192.7 152.7,192.7 152.9,192.7 153.2,192.7 153.4,192.7 153.7,192.7 153.9,192.7 154.2,192.7 154.4,192.6 154.7,192.4 154.9,192.2 155.2,191.8 155.4,191.4 155.7,191.0 155.9,190.5 156.2,189.8 156.4,188.8 156.7,187.5 156.9,186.1 157.2,184.7 157.4,183.4 157.7,182.3 157.9,181.1 158.2,179.8 158.4,178.6 158.7,177.5 158.9,176.8 159.2,176.4 159.4,176.6 159.7,177.4 159.9,178.5 160.2,179.7 160.4,180.7 160.7,181.4 160.9,182.0 161.2,182.5 161.4,183.0 161.7,183.4 161.9,183.7 162.2,184.1 162.4,184.4 162.7,184.7 162.9,184.9 163.2,185.2 163.4,185.4 163.7,185.6 163.9,185.9 164.2,186.1 164.4,186.4 164.7,186.6 164.9,186.9 165.2,187.1 165.4,187.3 165.7,187.5 165.9,187.7 166.2,187.9 166.4,188.1 166.7,188.2 166.9,188.3 167.2,188.3 167.4,188.4 167.7,188.5 167.9,188.5 168.2,188.6 168.4,188.6 168.7,188.7 168.9,188.7 169.2,188.7 169.4,188.8 169.7,188.8 169.9,188.8 170.2,188.8 170.4,188.8 170.7,188.6 170.9,188.3 171.2,188.0 171.4,187.6 171.7,187.3 171.9,186.7 172.2,186.1 172.4,185.6 172.7,185.5 172.9,185.8 173.2,186.3 173.4,187.0 173.7,187.7 173.9,188.2 174.2,188.8 174.4,189.4 174.7,190.0 174.9,190.5 175.2,190.9 175.4,191.1 175.7,191.3 175.9,191.5 176.2,191.6 176.4,191.8 176.7,192.0 176.9,192.1 177.2,192.3 177.4,192.4 177.7,192.6 177.9,192.7 178.2,192.8 178.4,192.9 178.7,193.0 178.9,193.1 179.2,193.2 179.4,193.3 179.7,193.4 179.9,193.4 180.2,193.5 180.4,193.5 180.7,193.6 180.9,193.6 181.2,193.6 181.4,193.6 181.7,193.6 181.9,193.6 182.2,193.6 182.4,193.6 182.7,193.6 182.9,193.6 183.2,193.6 183.4,193.6 183.7,193.6 183.9,193.6 184.2,193.5 184.4,193.5 184.7,193.5 184.9,193.5 185.2,193.5 185.4,193.5 185.7,193.5 185.9,193.5 186.2,193.5 186.4,193.5 186.7,193.4 186.9,193.4 187.2,193.4 187.4,193.4 187.7,193.4 187.9,193.4 188.2,193.4 188.4,193.4 188.7,193.4 188.9,193.4 189.2,193.3 189.4,193.3 189.7,193.3 189.9,193.3 190.2,193.3 190.4,193.3 190.7,193.3 190.9,193.3 191.2,193.3 191.4,193.3 191.7,193.3 191.9,193.3 192.2,193.3 192.4,193.2 192.7,193.2 192.9,193.2 193.2,193.2 193.4,193.2 193.7,193.2 193.9,193.2 194.2,193.2 194.4,193.2 194.7,193.2 194.9,193.2 195.2,193.2 195.4,193.2 195.7,193.2 195.9,193.1 196.2,193.1 196.4,193.1 196.7,193.1 196.9,193.1 197.2,193.1 197.4,193.1 197.7,193.1 197.9,193.1 198.2,193.1 198.4,193.1 198.7,193.1 198.9,193.1 199.2,193.1 199.4,193.1 199.7,193.1 199.9,193.1 200.2,193.1 200.4,193.1 200.7,193.1 200.9,193.1 201.2,193.1 201.4,193.1 201.7,193.1 201.9,193.2 202.2,193.2 202.4,193.2 202.7,193.2 202.9,193.2 203.2,193.2 203.4,193.3 203.7,193.3 203.9,193.3 204.2,193.3 204.4,193.3 204.7,193.4 204.9,193.4 205.2,193.4 205.4,193.4 205.7,193.4 205.9,193.5 206.2,193.5 206.4,193.5 206.7,193.6 206.9,193.6 207.2,193.6 207.4,193.6 207.7,193.7 207.9,193.7 208.2,193.7 208.4,193.8 208.7,193.8 208.9,193.8 209.2,193.8 209.4,193.9 209.7,193.9 209.9,193.9 210.2,194.0 210.4,194.0 210.7,194.0 210.9,194.1 211.2,194.1 211.4,194.1 211.7,194.2 211.9,194.2 212.2,194.2 212.4,194.2 212.7,194.3 212.9,194.3 213.2,194.3 213.4,194.4 213.7,194.4 213.9,194.4 214.2,194.5 214.4,194.5 214.7,194.5 214.9,194.5 215.2,194.6 215.4,194.6 215.7,194.6 215.9,194.6 216.2,194.7 216.4,194.7 216.7,194.7 216.9,194.7 217.2,194.8 217.4,194.8 217.7,194.8 217.9,194.8 218.2,194.8 218.4,194.9 218.7,194.9 218.9,194.9 219.2,194.9 219.4,194.9 219.7,194.9 219.9,195.0 220.2,195.0 220.4,195.0 220.7,195.0 220.9,195.0 221.2,195.0 221.4,195.1 221.7,195.1 221.9,195.1 222.2,195.1 222.4,195.1 222.7,195.1 222.9,195.2 223.2,195.2 223.4,195.2 223.7,195.2 223.9,195.2 224.2,195.2 224.4,195.3 224.7,195.3 224.9,195.3 225.2,195.3 225.4,195.3 225.7,195.3 225.9,195.3 226.2,195.4 226.4,195.4 226.7,195.4 226.9,195.4 227.2,195.4 227.4,195.4 227.7,195.4 227.9,195.5 228.2,195.5 228.4,195.5 228.7,195.5 228.9,195.5 229.2,195.5 229.4,195.5 229.7,195.6 229.9,195.6 230.2,195.6 230.4,195.6 230.7,195.6 230.9,195.6 231.2,195.6 231.4,195.7 231.7,195.7 231.9,195.7 232.2,195.7 232.4,195.7 232.7,195.7 232.9,195.7 233.2,195.8 233.4,195.8 233.7,195.8 233.9,195.8 234.2,195.8 234.4,195.8 234.7,195.8 234.9,195.9 235.2,195.9 235.4,195.9 235.7,195.9 235.9,195.9 236.2,195.9 236.4,195.9 236.7,196.0 236.9,196.0 237.2,196.0 237.4,196.0 237.7,196.0 237.9,196.0 238.2,196.0 238.4,196.1 238.7,196.1 238.9,196.1 239.2,196.1 239.4,196.1 239.7,196.1 239.9,196.2 240.2,196.2 240.4,196.2 240.7,196.2 240.9,196.2 241.2,196.2 241.4,196.3 241.7,196.3 241.9,196.3 242.2,196.3 242.4,196.3 242.7,196.3 242.9,196.4 243.2,196.4 243.4,196.4 243.7,196.4 243.9,196.4 244.2,196.4 244.4,196.5 244.7,196.5 244.9,196.5 245.2,196.5 245.4,196.5 245.7,196.5 245.9,196.6 246.2,196.6 246.4,196.6 246.7,196.6 246.9,196.6 247.2,196.7 247.4,196.7 247.7,196.7 247.9,196.7 248.2,196.8 248.4,196.8 248.7,196.8 248.9,196.8 249.2,196.8 249.4,196.9 249.7,196.9 249.9,196.9 250.2,196.9 250.4,197.0 250.7,197.0 250.9,197.0 251.2,197.0 251.4,197.1 251.7,197.1 251.9,197.1 252.2,197.1 252.4,197.2 252.7,197.2 252.9,197.2 253.2,197.2 253.4,197.3 253.7,197.3 253.9,197.3 254.2,197.3 254.4,197.4 254.7,197.4 254.9,197.4 255.2,197.4 255.4,197.5 255.7,197.5 255.9,197.5 256.1,197.5 256.4,197.6 256.6,197.6 256.9,197.6 257.1,197.6 257.4,197.7 257.6,197.7 257.9,197.7 258.1,197.7 258.4,197.8 258.6,197.8 258.9,197.8 259.1,197.8 259.4,197.9 259.6,197.9 259.9,197.9 260.1,197.9 260.4,198.0 260.6,198.0 260.9,198.0 261.1,198.0 261.4,198.0 261.6,198.1 261.9,198.1 262.1,198.1 262.4,198.1 262.6,198.2 262.9,198.2 263.1,198.2 263.4,198.2 263.6,198.2 263.9,198.3 264.1,198.3 264.4,198.3 264.6,198.3 264.9,198.4 265.1,198.4 265.4,198.4 265.6,198.4 265.9,198.4 266.1,198.5 266.4,198.5 266.6,198.5 266.9,198.5 267.1,198.5 267.4,198.5 267.6,198.6 267.9,198.6 268.1,198.6 268.4,198.6 268.6,198.6 268.9,198.6 269.1,198.7 269.4,198.7 269.6,198.7 269.9,198.7 270.1,198.7 270.4,198.7 270.6,198.7 270.9,198.7 271.1,198.8 271.4,198.8 271.6,198.8 271.9,198.8 272.1,198.8 272.4,198.8 272.6,198.8 272.9,198.8 273.1,198.9 273.4,198.9 273.6,198.9 273.9,198.9 274.1,198.9 274.4,198.9 274.6,198.9 274.9,198.9 275.1,199.0 275.4,199.0 275.6,199.0 275.9,199.0 276.1,199.0 276.4,199.0 276.6,199.0 276.9,199.0 277.1,199.0 277.4,199.1 277.6,199.1 277.9,199.1 278.1,199.1 278.4,199.1 278.6,199.1 278.9,199.1 279.1,199.1 279.4,199.1 279.6,199.2 279.9,199.2 280.1,199.2 280.4,199.2 280.6,199.2 280.9,199.2 281.1,199.2 281.4,199.2 281.6,199.2 281.9,199.2 282.1,199.3 282.4,199.3 282.6,199.3 282.9,199.3 283.1,199.3 283.4,199.3 283.6,199.3 283.9,199.3 284.1,199.3 284.4,199.3 284.6,199.4 284.9,199.4 285.1,199.4 285.4,199.4 285.6,199.4 285.9,199.4 286.1,199.4 286.4,199.4 286.6,199.4 286.9,199.4 287.1,199.4 287.4,199.5 287.6,199.5 287.9,199.5 288.1,199.5 288.4,199.5 288.6,199.5 288.9,199.5 289.1,199.5 289.4,199.5 289.6,199.5 289.9,199.5 290.1,199.5 290.4,199.6 290.6,199.6 290.9,199.6 291.1,199.6 291.4,199.6 291.6,199.6 291.9,199.6 292.1,199.6 292.4,199.6 292.6,199.6 292.9,199.6 293.1,199.6 293.4,199.6 293.6,199.6 293.9,199.7 294.1,199.7 294.4,199.7 294.6,199.7 294.9,199.7 295.1,199.7 295.4,199.7 295.6,199.7 295.9,199.7 296.1,199.7 296.4,199.7 296.6,199.7 296.9,199.7 297.1,199.7 297.4,199.7 297.6,199.7 297.9,199.8 298.1,199.8 298.4,199.8 298.6,199.8 298.9,199.8 299.1,199.8 299.4,199.8 299.6,199.8 299.9,199.8 300.1,199.8 300.4,199.8 300.6,199.8 300.9,199.8 301.1,199.8 301.4,199.8 301.6,199.8 301.9,199.8 302.1,199.8 302.4,199.9 302.6,199.9 302.9,199.9 303.1,199.9 303.4,199.9 303.6,199.9 303.9,199.9 304.1,199.9 304.4,199.9 304.6,199.9 304.9,199.9 305.1,199.9 305.4,199.9 305.6,199.9 305.9,199.9 306.1,199.9 306.4,199.9 306.6,199.9 306.9,199.9 307.1,199.9 307.4,200.0 307.6,200.0 307.9,200.0 308.1,200.0 308.4,200.0 308.6,200.0 308.9,200.0 309.1,200.0 309.4,200.0 309.6,200.0 309.9,200.0 310.1,200.0 310.4,200.0 310.6,200.0 310.9,200.0 311.1,200.0 311.4,200.0 311.6,200.0 311.9,200.0 312.1,200.0 312.4,200.1 312.6,200.1 312.9,200.1 313.1,200.1 313.4,200.1 313.6,200.1 313.9,200.1 314.1,200.1 314.4,200.1 314.6,200.1 314.9,200.1 315.1,200.1 315.4,200.1 315.6,200.1 315.9,200.1 316.1,200.1 316.4,200.1 316.6,200.1 316.9,200.1 317.1,200.1 317.4,200.1 317.6,200.1 317.9,200.1 318.1,200.2 318.4,200.2 318.6,200.2 318.9,200.2 319.1,200.2 319.4,200.2 319.6,200.2 319.9,200.2 320.1,200.2 320.4,200.2 320.6,200.2 320.9,200.2 321.1,200.2 321.4,200.2 321.6,200.2 321.9,200.2 322.1,200.2 322.4,200.2 322.6,200.2 322.9,200.2 323.1,200.2 323.4,200.2 323.6,200.2 323.9,200.2 324.1,200.2 324.4,200.2 324.6,200.2 324.9,200.2 325.1,200.2 325.4,200.2 325.6,200.3 325.9,200.3 326.1,200.3 326.4,200.3 326.6,200.3 326.9,200.3 327.1,200.3 327.4,200.3 327.6,200.3 327.9,200.3 328.1,200.3 328.4,200.3 328.6,200.3 328.9,200.3 329.1,200.3 329.4,200.3 329.6,200.3 329.9,200.3 330.1,200.3 330.4,200.3 330.6,200.3 330.9,200.3 331.1,200.3 331.4,200.3 331.6,200.3 331.9,200.3 332.1,200.3 332.4,200.3 332.6,200.3 332.9,200.3 333.1,200.3 333.4,200.3 333.6,200.3 333.9,200.3 334.1,200.3 334.4,200.3 334.6,200.3 334.9,200.3 335.1,200.3 335.4,200.3 335.6,200.3 335.9,200.3 336.1,200.3 336.4,200.3 336.6,200.3 336.9,200.3 337.1,200.3 337.4,200.3 337.6,200.3 337.9,200.3 338.1,200.3 338.4,200.3 338.6,200.3 338.9,200.3 339.1,200.3 339.4,200.3 339.6,200.3 339.9,200.3 340.1,200.3 340.4,200.3 340.6,200.3 340.9,200.3 341.1,200.3 341.4,200.3 341.6,200.3 341.9,200.3 342.1,200.3 342.4,200.3 342.6,200.3 342.9,200.3 343.1,200.3 343.4,200.3 343.6,200.3 343.9,200.3 344.1,200.3 344.4,200.3 344.6,200.3 344.9,200.3 345.1,200.3 345.4,200.3 345.6,200.3 345.9,200.3 346.1,200.3 346.4,200.2 346.6,200.1 346.9,200.1 347.1,200.0 347.4,199.8 347.6,199.7 347.9,199.6 348.1,199.5 348.4,199.3 348.6,199.2 348.9,199.1 349.1,198.9 349.4,198.8 349.6,198.6 349.9,198.4 350.1,198.2 350.4,197.9 350.6,197.6 350.9,197.3 351.1,196.9 351.4,196.4 351.6,195.8 351.9,195.2 352.1,194.5 352.4,193.6 352.6,192.5 352.9,191.0 353.1,189.2 353.4,187.0 353.6,184.4 353.9,180.9 354.1,176.1 354.4,170.3 354.6,162.1 354.9,151.5 355.1,143.1 355.4,137.1 355.6,130.0 355.9,117.2 356.1,106.3 356.4,98.5 356.6,99.9 356.9,108.5 357.1,115.6 357.4,122.6 357.6,130.0 357.9,138.1 358.1,146.0 358.4,153.0 358.6,159.7 358.9,165.4 359.1,169.8 359.4,173.3 359.6,176.3 359.9,178.9 360.1,181.0 360.4,182.6 360.6,184.0 360.9,185.3 361.1,186.5 361.4,187.6 361.6,188.4 361.9,189.0 362.1,189.2 362.4,189.1 362.6,188.9 362.9,188.5 363.1,187.9 363.4,187.2 363.6,186.4 363.9,185.5 364.1,184.5 364.4,183.4 364.6,182.2 364.9,180.5 365.1,178.3 365.4,175.6 365.6,172.5 365.9,169.0 366.1,164.4 366.4,158.4 366.6,151.6 366.9,144.6 367.1,136.9 367.4,128.6 367.6,120.0 367.9,109.1 368.1,108.3 368.4,113.4 368.6,120.0 368.9,128.8 369.1,139.4 369.4,147.2 369.6,152.9 369.9,157.8 370.1,162.0 370.4,165.8 370.6,169.0 370.9,172.0 371.1,174.8 371.4,177.3 371.6,179.6 371.9,181.6 372.1,183.2 372.4,184.5 372.6,185.6 372.9,186.6 373.1,187.7 373.4,188.6 373.6,189.5 373.9,190.3 374.1,190.9 374.4,191.5 374.6,191.9 374.9,192.2 375.1,192.3 375.4,192.2 375.6,191.9 375.9,191.5 376.1,190.8 376.4,190.0 376.6,189.0 376.9,188.0 377.1,186.8 377.4,185.4 377.6,183.4 377.9,180.5 378.1,176.8 378.4,172.1 378.6,165.0 378.9,152.7 379.1,141.8 379.4,132.2 379.6,133.7 379.9,144.1 380.1,153.9 380.4,164.2 380.6,171.0 380.9,175.4 381.1,179.1 381.4,182.1 381.6,184.4 381.9,186.0 382.1,187.2 382.4,188.2 382.6,189.0 382.9,189.7 383.1,190.3 383.4,190.8 383.6,191.3 383.9,191.7 384.1,192.1 384.4,192.4 384.6,192.8 384.9,193.0 385.1,193.2 385.4,193.4 385.6,193.4 385.9,193.3 386.1,193.1 386.4,192.7 386.6,192.2 386.9,191.7 387.1,191.0 387.4,190.3 387.6,189.5 387.9,188.6 388.1,187.3 388.4,185.6 388.6,183.5 388.9,181.1 389.1,178.1 389.4,173.9 389.6,169.0 389.9,163.2 390.1,156.4 390.4,147.2 390.6,148.7 390.9,159.8 391.1,170.1 391.4,174.6 391.6,177.7 391.9,180.0 392.1,181.9 392.4,183.6 392.6,185.0 392.9,186.1 393.1,186.9 393.4,187.4 393.6,187.9 393.9,188.4 394.1,188.8 394.4,189.2 394.6,189.5 394.9,189.8 395.1,190.0 395.4,190.1 395.6,190.2 395.9,190.2 396.1,189.7 396.4,188.9 396.6,187.7 396.9,186.4 397.1,184.9 397.4,183.4 397.6,181.4 397.9,178.9 398.1,175.7 398.4,170.8 398.6,163.2 398.9,155.0 399.1,145.8 399.4,138.0 399.6,133.3 399.9,131.0 400.1,132.5 400.4,135.7 400.6,139.3 400.9,144.2 401.1,149.2 401.4,153.6 401.6,158.0 401.9,160.0 402.1,158.0 402.4,153.6 402.6,149.2 402.9,144.6 403.1,140.5 403.4,138.1 403.6,136.6 403.9,137.4 404.1,140.2 404.4,143.7 404.6,147.1 404.9,151.4 405.1,155.8 405.4,159.8 405.6,162.4 405.9,164.5 406.1,166.4 406.4,168.1 406.6,169.4 406.9,170.4 407.1,170.8 407.4,170.2 407.6,168.3 407.9,165.4 408.1,162.0 408.4,158.4 408.6,153.1 408.9,148.2 409.1,145.7 409.4,143.8 409.6,142.8 409.9,143.2 410.1,144.6 410.4,146.3 410.6,148.2 410.9,150.7 411.1,153.0 411.4,154.0 411.6,148.4 411.9,135.7 412.1,122.2 412.4,111.6 412.6,101.2 412.9,90.6 413.1,80.2 413.4,75.4 413.6,73.3 413.9,72.7 414.1,72.3 414.4,71.1 414.6,67.6 414.9,64.5 415.1,62.6 415.4,61.1 415.6,60.3 415.9,61.1 416.1,63.9 416.4,68.1 416.6,76.6 416.9,86.0 417.1,94.4 417.4,102.8 417.6,110.8 417.9,117.6 418.1,123.7 418.4,129.3 418.6,134.6 418.9,139.8 419.1,145.4 419.4,151.5 419.6,157.3 419.9,161.8 420.1,164.5 420.4,166.8 420.6,168.0 420.9,167.5 421.1,165.8 421.4,163.3 421.6,160.4 421.9,156.1 422.1,150.2 422.4,143.3 422.6,135.7 422.9,128.0 423.1,120.3 423.4,111.5 423.6,102.1 423.9,92.9 424.1,84.4 424.4,77.2 424.6,69.7 424.9,62.4 425.1,56.6 425.4,53.3 425.6,53.5 425.9,56.4 426.1,60.9 426.4,66.1 426.6,70.9 426.9,76.4 427.1,82.6 427.4,89.0 427.6,95.0 427.9,100.0 428.1,104.6 428.4,109.3 428.6,113.8 428.9,117.7 429.1,120.6 429.4,122.2 429.6,121.3 429.9,115.9 430.1,108.1 430.4,100.0 430.6,91.5 430.9,82.0 431.1,73.4 431.4,65.8 431.6,58.9 431.9,52.3 432.1,45.3 432.4,41.8 432.6,45.4 432.9,52.5 433.1,58.3 433.4,63.9 433.6,69.0 433.9,73.5 434.1,77.8 434.4,81.9 434.6,85.8 434.9,89.6 435.1,93.3 435.4,96.9 435.6,100.4 435.9,103.7 436.1,106.9 436.4,109.9 436.6,112.8 436.9,115.6 437.1,118.3 437.4,121.0 437.6,123.6 437.9,126.2 438.1,128.8 438.4,131.3 438.6,133.9 438.9,136.3 439.1,138.7 439.4,141.0 439.6,143.2 439.9,145.2 440.1,147.2 440.4,149.1 440.6,150.9 440.9,152.7 441.1,154.4 441.4,156.1 441.6,157.6 441.9,159.0 442.1,160.3 442.4,161.5 442.6,162.6 442.9,163.8 443.1,165.0 443.4,166.0 443.6,166.9 443.9,167.6 444.1,167.9 444.4,167.9 444.6,167.1 444.9,165.5 445.1,163.6 445.4,161.6 445.6,159.6 445.9,157.1 446.1,154.2 446.4,151.4 446.6,149.2 446.9,148.4 447.1,149.1 447.4,151.0 447.6,153.7 447.9,156.7 448.1,159.5 448.4,162.2 448.6,165.3 448.9,168.6 449.1,171.7 449.4,174.4 449.6,176.3 449.9,177.9 450.1,179.5 450.4,180.8 450.6,181.9 450.9,182.5 451.1,182.7 451.4,182.2 451.6,181.2 451.9,179.7 452.1,177.9 452.4,175.8 452.6,173.5 452.9,169.9 453.1,164.9 453.4,159.2 453.6,153.3 453.9,147.9 454.1,142.6 454.4,137.1 454.6,131.3 454.9,125.0 455.1,118.0 455.4,110.2 455.6,101.9 455.9,93.2 456.1,83.8 456.4,73.8 456.6,62.9 456.9,49.4 457.1,44.3 457.4,46.0 457.6,49.8 457.9,55.2 458.1,61.8 458.4,69.4 458.6,82.7 458.9,98.0 459.1,114.0 459.4,126.2 459.6,135.6 459.9,142.8 460.1,147.9 460.4,152.4 460.6,155.7 460.9,157.0 461.1,155.3 461.4,151.1 461.6,146.0 461.9,140.2 462.1,132.5 462.4,124.8 462.6,118.0 462.9,111.9 463.1,107.5 463.4,104.2 463.6,104.5 463.9,107.5 464.1,110.5 464.4,113.4 464.6,116.4 464.9,119.0 465.1,120.7 465.4,120.9 465.6,120.2 465.9,119.2 466.1,118.4 466.4,117.8 466.6,117.3 466.9,117.6 467.1,120.9 467.4,126.1 467.6,130.9 467.9,135.7 468.1,140.9 468.4,145.9 468.6,150.1 468.9,153.1 469.1,155.8 469.4,158.3 469.6,160.6 469.9,162.4 470.1,163.6 470.4,164.0 470.6,164.0 470.9,163.8 471.1,163.6 471.4,163.4 471.6,163.1 471.9,162.8 472.1,162.6 472.4,162.2 472.6,161.7 472.9,161.1 473.1,160.5 473.4,160.0 473.6,159.6 473.9,159.3 474.1,159.4 474.4,159.9 474.6,160.6 474.9,161.5 475.1,162.3 475.4,162.8 475.6,163.0 475.9,162.7 476.1,162.2 476.4,161.5 476.6,160.8 476.9,160.2 477.1,159.9 477.4,159.9 477.6,160.8 477.9,162.2 478.1,163.8 478.4,165.0 478.6,166.0 478.9,167.0 479.1,167.9 479.4,168.4 479.6,168.4 479.9,168.1 480.1,167.7 480.4,167.1 480.6,166.4 480.9,165.7 481.1,164.5 481.4,162.8 481.6,160.5 481.9,157.0 482.1,151.3 482.4,144.3 482.6,134.5 482.9,116.7 483.1,134.2 483.4,142.8 483.6,148.9 483.9,154.2 484.1,158.7 484.4,162.0 484.6,164.4 484.9,166.4 485.1,168.1 485.4,169.5 485.6,170.7 485.9,171.8 486.1,172.7 486.4,173.5 486.6,174.2 486.9,174.7 487.1,175.1 487.4,175.5 487.6,175.8 487.9,176.0 488.1,175.9 488.4,175.5 488.6,174.7 488.9,173.8 489.1,172.7 489.4,171.6 489.6,170.6 489.9,169.6 490.1,168.6 490.4,167.5 490.6,166.3 490.9,165.2 491.1,164.2 491.4,163.4 491.6,163.0 491.9,163.0 492.1,163.6 492.4,164.9 492.6,166.4 492.9,168.1 493.1,169.7 493.4,171.2 493.6,173.0 493.9,174.8 494.1,176.4 494.4,177.6 494.6,178.5 494.9,179.2 495.1,179.8 495.4,180.2 495.6,180.2 495.9,178.6 496.1,175.0 496.4,170.0 496.6,157.3 496.9,139.9 497.1,129.2 497.4,120.2 497.6,114.2 497.9,113.9 498.1,121.5 498.4,131.7 498.6,139.7 498.9,148.0 499.1,152.8 499.4,151.3 499.6,145.5 499.9,138.0 500.1,129.7 500.4,118.4 500.6,107.2 500.9,99.1 501.1,91.7 501.4,85.6 501.6,82.6 501.9,85.3 502.1,94.2 502.4,105.0 502.6,118.9 502.9,133.8 503.1,143.0 503.4,149.3 503.6,146.8 503.9,134.4 504.1,124.0 504.4,113.7 504.6,107.7 504.9,109.9 505.1,117.3 505.4,125.0 505.6,131.9 505.9,139.0 506.1,145.2 506.4,149.5 506.6,153.1 506.9,156.4 507.1,159.2 507.4,161.5 507.6,163.2 507.9,164.4 508.1,165.5 508.4,166.4 508.6,167.3 508.9,168.2 509.1,168.9 509.4,169.6 509.6,170.2 509.9,170.7 510.1,171.1 510.4,171.4 510.6,171.5 510.9,171.6 511.1,171.6 511.4,171.5 511.6,171.4 511.9,171.2 512.1,171.0 512.4,170.7 512.6,170.4 512.9,170.1 513.1,169.7 513.4,169.2 513.6,168.5 513.9,166.8 514.1,164.2 514.4,161.0 514.6,157.3 514.9,153.2 515.1,146.8 515.4,139.0 515.6,131.2 515.9,125.0 516.1,120.2 516.4,115.8 516.6,111.9 516.9,108.9 517.1,106.7 517.4,104.8 517.6,103.8 517.9,104.2 518.1,105.4 518.4,106.9 518.6,108.2 518.9,109.6 519.1,111.0 519.4,112.3 519.6,113.5 519.9,114.3 520.1,115.1 520.4,115.7 520.6,116.3 520.9,116.8 521.1,117.2 521.4,117.5 521.6,117.6 521.9,117.8 522.1,117.8 522.4,117.9 522.6,118.0 522.9,118.2 523.1,118.4 523.4,119.9 523.6,124.1 523.9,129.0" fill="none" stroke="#548235" stroke-width="3.7" stroke-linecap="round" stroke-linejoin="round"/>
<path d="M61.9,198.6 62.3,198.5 62.7,198.3 63.1,198.2 63.5,198.0 63.9,197.9 64.3,197.8 64.7,197.6 65.1,197.5 65.5,197.3 65.9,197.2 66.3,197.0 66.7,196.8 67.1,196.7 67.5,196.5 67.9,196.4 68.3,196.2 68.7,196.0 69.1,195.9 69.5,195.7 69.9,195.5 70.3,195.4 70.7,195.2 71.1,195.0 71.5,194.9 71.9,194.7 72.3,194.5 72.7,194.3 73.1,194.1 73.5,194.0 73.9,193.8 74.3,193.6 74.7,193.4 75.1,193.2 75.5,193.0 75.9,192.8 76.3,192.6 76.7,192.4 77.1,192.1 77.5,191.9 77.9,191.7 78.3,191.5 78.7,191.3 79.1,191.1 79.5,190.9 79.9,190.7 80.3,190.5 80.7,190.3 81.1,190.1 81.5,189.9 81.9,189.7 82.3,189.5 82.7,189.3 83.1,189.1 83.5,189.0 83.9,188.8 84.3,188.6 84.7,188.5 85.1,188.3 85.5,188.1 85.9,187.9 86.3,187.8 86.7,187.6 87.1,187.5 87.5,187.3 87.9,187.1 88.3,187.0 88.7,186.8 89.1,186.7 89.5,186.5 89.9,186.4 90.3,186.3 90.7,186.1 91.1,186.0 91.5,185.9 91.9,185.7 92.3,185.6 92.7,185.5 93.1,185.3 93.5,185.2 93.9,185.0 94.3,184.9 94.7,184.8 95.1,184.6 95.5,184.5 95.9,184.3 96.3,184.2 96.7,184.1 97.1,183.9 97.5,183.8 97.9,183.7 98.3,183.6 98.7,183.5 99.1,183.4 99.5,183.3 99.9,183.2 100.3,183.1 100.7,183.0 101.1,183.0 101.5,182.9 101.9,182.9 102.3,182.8 102.7,182.8 103.1,182.8 103.5,182.8 103.9,182.8 104.3,182.8 104.7,182.8 105.1,182.9 105.5,182.9 105.9,182.9 106.3,183.0 106.7,183.0 107.1,183.0 107.5,183.1 107.9,183.1 108.3,183.2 108.7,183.2 109.1,183.3 109.5,183.4 109.9,183.4 110.3,183.5 110.7,183.6 111.1,183.7 111.5,183.7 111.9,183.8 112.3,183.9 112.7,184.0 113.1,184.1 113.5,184.2 113.9,184.3 114.3,184.5 114.7,184.6 115.1,184.8 115.5,185.1 115.9,185.3 116.3,185.5 116.7,185.8 117.1,186.0 117.5,186.2 117.9,186.5 118.3,186.7 118.7,186.8 119.1,187.0 119.5,187.2 119.9,187.4 120.3,187.6 120.7,187.8 121.1,187.9 121.5,188.1 121.9,188.3 122.3,188.5 122.7,188.6 123.1,188.8 123.5,189.0 123.9,189.1 124.3,189.3 124.7,189.5 125.1,189.6 125.5,189.8 125.9,189.9 126.3,190.1 126.7,190.2 127.1,190.3 127.5,190.4 127.9,190.6 128.3,190.7 128.7,190.8 129.1,190.9 129.5,191.0 129.9,191.1 130.3,191.2 130.7,191.3 131.1,191.4 131.5,191.5 131.9,191.6 132.3,191.7 132.7,191.8 133.1,191.9 133.5,192.0 133.9,192.0 134.3,192.1 134.7,192.2 135.1,192.3 135.5,192.4 135.9,192.4 136.3,192.5 136.7,192.6 137.1,192.7 137.5,192.7 137.9,192.8 138.3,192.9 138.7,192.9 139.1,193.0 139.5,193.1 139.9,193.1 140.3,193.2 140.7,193.2 141.1,193.3 141.5,193.4 141.9,193.4 142.3,193.5 142.7,193.5 143.1,193.6 143.5,193.6 143.9,193.7 144.3,193.7 144.7,193.8 145.1,193.8 145.5,193.9 145.9,193.9 146.3,193.9 146.7,194.0 147.1,194.0 147.5,194.1 147.9,194.1 148.3,194.1 148.7,194.2 149.1,194.2 149.5,194.3 149.9,194.3 150.3,194.3 150.7,194.4 151.1,194.4 151.5,194.4 151.9,194.4 152.3,194.5 152.7,194.5 153.1,194.5 153.5,194.5 153.9,194.5 154.3,194.5 154.7,194.5 155.1,194.5 155.5,194.5 155.9,194.4 156.3,194.4 156.7,194.4 157.1,194.4 157.5,194.3 157.9,194.3 158.3,194.3 158.7,194.2 159.1,194.2 159.5,194.1 159.9,194.1 160.3,194.0 160.7,194.0 161.1,193.9 161.5,193.8 161.9,193.8 162.3,193.7 162.7,193.7 163.1,193.6 163.5,193.6 163.9,193.5 164.3,193.4 164.7,193.3 165.1,193.1 165.5,193.0 165.9,192.9 166.3,192.8 166.7,192.6 167.1,192.5 167.5,192.4 167.9,192.2 168.3,192.1 168.7,192.0 169.1,191.9 169.5,191.9 169.9,191.8 170.3,191.8 170.7,191.8 171.1,191.8 171.5,191.8 171.9,191.9 172.3,191.9 172.7,192.0 173.1,192.1 173.5,192.2 173.9,192.2 174.3,192.3 174.7,192.4 175.1,192.5 175.5,192.6 175.9,192.7 176.3,192.8 176.7,192.9 177.1,193.0 177.5,193.2 177.9,193.3 178.3,193.5 178.7,193.7 179.1,193.8 179.5,194.0 179.9,194.1 180.3,194.2 180.7,194.3 181.1,194.4 181.5,194.5 181.9,194.6 182.3,194.7 182.7,194.7 183.1,194.8 183.5,194.8 183.9,194.9 184.3,195.0 184.7,195.0 185.1,195.1 185.5,195.1 185.9,195.2 186.3,195.2 186.7,195.3 187.1,195.3 187.5,195.4 187.9,195.4 188.3,195.4 188.7,195.5 189.1,195.5 189.5,195.6 189.9,195.6 190.3,195.6 190.7,195.7 191.1,195.7 191.5,195.8 191.9,195.8 192.3,195.8 192.7,195.9 193.1,195.9 193.5,195.9 193.9,196.0 194.3,196.0 194.7,196.0 195.1,196.1 195.5,196.1 195.9,196.1 196.3,196.1 196.7,196.2 197.1,196.2 197.5,196.2 197.9,196.3 198.3,196.3 198.7,196.3 199.1,196.4 199.5,196.4 199.9,196.4 200.3,196.5 200.7,196.5 201.1,196.5 201.5,196.6 201.9,196.6 202.3,196.6 202.7,196.7 203.1,196.7 203.5,196.7 203.9,196.7 204.3,196.8 204.7,196.8 205.1,196.8 205.5,196.9 205.9,196.9 206.3,196.9 206.7,196.9 207.1,197.0 207.5,197.0 207.9,197.0 208.3,197.0 208.7,197.1 209.1,197.1 209.5,197.1 209.9,197.2 210.3,197.2 210.7,197.2 211.1,197.2 211.5,197.3 211.9,197.3 212.3,197.3 212.7,197.3 213.1,197.3 213.5,197.4 213.9,197.4 214.3,197.4 214.7,197.4 215.1,197.5 215.5,197.5 215.9,197.5 216.3,197.5 216.7,197.5 217.1,197.6 217.5,197.6 217.9,197.6 218.3,197.6 218.7,197.7 219.1,197.7 219.5,197.7 219.9,197.7 220.3,197.7 220.7,197.8 221.1,197.8 221.5,197.8 221.9,197.8 222.3,197.8 222.7,197.9 223.1,197.9 223.5,197.9 223.9,197.9 224.3,197.9 224.7,198.0 225.1,198.0 225.5,198.0 225.9,198.0 226.3,198.1 226.7,198.1 227.1,198.1 227.5,198.1 227.9,198.1 228.3,198.2 228.7,198.2 229.1,198.2 229.5,198.2 229.9,198.2 230.3,198.2 230.7,198.3 231.1,198.3 231.5,198.3 231.9,198.3 232.3,198.3 232.7,198.4 233.1,198.4 233.5,198.4 233.9,198.4 234.3,198.4 234.7,198.4 235.1,198.5 235.5,198.5 235.9,198.5 236.3,198.5 236.7,198.5 237.1,198.5 237.5,198.5 237.9,198.6 238.3,198.6 238.7,198.6 239.1,198.6 239.5,198.6 239.9,198.6 240.3,198.6 240.7,198.6 241.1,198.6 241.5,198.7 241.9,198.7 242.3,198.7 242.7,198.7 243.1,198.7 243.5,198.7 243.9,198.7 244.3,198.7 244.7,198.7 245.1,198.7 245.5,198.7 245.9,198.7 246.3,198.7 246.7,198.7 247.1,198.7 247.5,198.7 247.9,198.7 248.3,198.7 248.7,198.7 249.1,198.7 249.5,198.7 249.9,198.7 250.3,198.7 250.7,198.7 251.1,198.7 251.5,198.7 251.9,198.7 252.3,198.8 252.7,198.8 253.1,198.8 253.5,198.8 253.9,198.8 254.3,198.8 254.7,198.8 255.1,198.8 255.5,198.8 255.9,198.8 256.3,198.8 256.7,198.8 257.1,198.8 257.5,198.8 257.9,198.8 258.3,198.8 258.7,198.8 259.1,198.8 259.5,198.8 259.9,198.8 260.3,198.8 260.7,198.8 261.1,198.8 261.5,198.8 261.9,198.8 262.3,198.8 262.7,198.8 263.1,198.8 263.5,198.8 263.9,198.8 264.3,198.8 264.7,198.8 265.1,198.8 265.5,198.8 265.9,198.8 266.3,198.8 266.7,198.8 267.1,198.8 267.5,198.8 267.9,198.8 268.3,198.8 268.7,198.8 269.1,198.8 269.5,198.8 269.9,198.8 270.3,198.8 270.7,198.8 271.1,198.8 271.5,198.8 271.9,198.8 272.3,198.8 272.7,198.9 273.1,198.9 273.5,198.9 273.9,198.9 274.3,198.9 274.7,198.9 275.1,198.9 275.5,198.9 275.9,198.9 276.3,198.9 276.7,198.9 277.1,198.9 277.5,198.9 277.9,198.9 278.3,198.9 278.7,198.9 279.1,198.9 279.5,198.9 279.9,198.9 280.3,198.9 280.7,198.9 281.1,198.9 281.5,198.9 281.9,198.9 282.3,198.9 282.7,198.9 283.1,198.9 283.5,198.9 283.9,198.9 284.3,198.9 284.7,198.9 285.1,198.9 285.5,198.9 285.9,198.9 286.3,198.9 286.7,198.9 287.1,198.9 287.5,198.9 287.9,198.9 288.3,198.9 288.7,198.9 289.1,198.9 289.5,198.9 289.9,198.9 290.3,198.9 290.7,198.9 291.1,198.9 291.5,198.9 291.9,198.9 292.3,198.9 292.7,198.9 293.1,198.9 293.5,198.9 293.9,198.9 294.3,198.9 294.7,198.9 295.1,198.9 295.5,198.9 295.9,198.9 296.3,198.9 296.7,198.9 297.1,198.9 297.5,198.9 297.9,198.9 298.3,198.9 298.7,198.9 299.1,198.9 299.5,198.9 299.9,198.9 300.3,198.9 300.7,198.9 301.1,198.9 301.5,198.9 301.9,198.9 302.3,198.9 302.7,198.9 303.1,198.9 303.5,198.9 303.9,198.9 304.3,198.9 304.7,198.9 305.1,198.9 305.5,198.9 305.9,198.9 306.3,198.9 306.7,198.9 307.1,198.9 307.5,198.9 307.9,198.9 308.3,198.9 308.7,198.9 309.1,198.9 309.5,198.9 309.9,198.9 310.3,198.9 310.7,198.9 311.1,198.9 311.5,198.9 311.9,198.8 312.3,198.8 312.7,198.8 313.1,198.8 313.5,198.8 313.9,198.8 314.3,198.8 314.7,198.8 315.1,198.8 315.5,198.8 315.9,198.8 316.3,198.8 316.7,198.8 317.1,198.8 317.5,198.8 317.9,198.8 318.3,198.8 318.7,198.8 319.1,198.8 319.5,198.8 319.9,198.8 320.3,198.8 320.7,198.7 321.1,198.7 321.5,198.7 321.9,198.7 322.3,198.7 322.7,198.7 323.1,198.7 323.5,198.7 323.9,198.7 324.3,198.7 324.7,198.7 325.1,198.7 325.5,198.7 325.9,198.7 326.3,198.7 326.7,198.6 327.1,198.6 327.5,198.6 327.9,198.6 328.3,198.6 328.7,198.6 329.1,198.6 329.5,198.6 329.9,198.6 330.3,198.6 330.7,198.6 331.1,198.6 331.5,198.6 331.9,198.5 332.3,198.5 332.7,198.5 333.1,198.5 333.5,198.5 333.9,198.5 334.3,198.5 334.7,198.5 335.1,198.5 335.5,198.5 335.9,198.5 336.3,198.4 336.7,198.4 337.1,198.4 337.5,198.4 337.9,198.4 338.3,198.4 338.7,198.4 339.1,198.4 339.5,198.4 339.9,198.3 340.3,198.3 340.7,198.3 341.1,198.3 341.5,198.3 341.9,198.3 342.3,198.3 342.7,198.3 343.1,198.3 343.5,198.2 343.9,198.2 344.3,198.2 344.7,198.2 345.1,198.2 345.5,198.2 345.9,198.2 346.3,198.1 346.7,198.1 347.1,198.1 347.5,198.1 347.9,198.0 348.3,198.0 348.7,198.0 349.1,197.9 349.5,197.9 349.9,197.9 350.3,197.8 350.7,197.8 351.1,197.8 351.5,197.7 351.9,197.7 352.3,197.6 352.7,197.6 353.1,197.6 353.5,197.5 353.9,197.5 354.3,197.5 354.7,197.4 355.1,197.4 355.5,197.4 355.9,197.3 356.3,197.3 356.7,197.2 357.1,197.2 357.5,197.1 357.9,197.1 358.3,197.0 358.7,197.0 359.1,197.0 359.5,196.9 359.9,196.9 360.3,196.8 360.7,196.8 361.1,196.8 361.5,196.7 361.9,196.7 362.3,196.7 362.7,196.7 363.1,196.7 363.5,196.7 363.9,196.7 364.3,196.7 364.7,196.8 365.1,196.8 365.5,196.8 365.9,196.9 366.3,196.9 366.7,197.0 367.1,197.0 367.5,197.1 367.9,197.1 368.3,197.2 368.7,197.2 369.1,197.3 369.5,197.3 369.9,197.4 370.3,197.4 370.7,197.5 371.1,197.5 371.5,197.6 371.9,197.6 372.3,197.6 372.7,197.6 373.1,197.7 373.5,197.7 373.9,197.7 374.3,197.7 374.7,197.7 375.1,197.8 375.5,197.8 375.9,197.8 376.3,197.8 376.7,197.8 377.1,197.8 377.5,197.9 377.9,197.9 378.3,197.9 378.7,197.9 379.1,197.9 379.5,198.0 379.9,198.0 380.3,198.0 380.7,198.1 381.1,198.1 381.5,198.1 381.9,198.2 382.3,198.2 382.7,198.3 383.1,198.3 383.5,198.4 383.9,198.4 384.3,198.5 384.7,198.5 385.1,198.5 385.5,198.5 385.9,198.5 386.3,198.4 386.7,198.2 387.1,198.0 387.5,197.8 387.9,197.6 388.3,197.3 388.7,196.8 389.1,196.3 389.5,195.7 389.9,195.1 390.3,194.7 390.7,194.3 391.1,194.1 391.5,194.0 391.9,193.8 392.3,193.7 392.7,193.6 393.1,193.5 393.5,193.4 393.9,193.3 394.3,193.2 394.7,193.1 395.1,193.1 395.5,193.0 395.9,193.0 396.3,193.0 396.7,193.0 397.1,193.0 397.5,193.1 397.9,193.1 398.3,193.2 398.7,193.2 399.1,193.3 399.5,193.4 399.9,193.4 400.3,193.5 400.7,193.5 401.1,193.6 401.5,193.6 401.9,193.6 402.3,193.6 402.7,193.5 403.1,193.4 403.5,193.2 403.9,193.0 404.3,192.9 404.7,192.7 405.1,192.5 405.5,192.4 405.9,192.3 406.3,192.2 406.7,192.1 407.1,192.1 407.5,192.0 407.9,192.0 408.3,192.0 408.7,191.9 409.1,191.9 409.5,191.8 409.9,191.7 410.3,191.6 410.7,191.4 411.1,191.2 411.5,191.0 411.9,190.8 412.3,190.6 412.7,190.4 413.1,190.3 413.5,190.2 413.9,190.2 414.3,190.4 414.7,190.9 415.1,191.4 415.5,192.0 415.9,192.3 416.3,192.6 416.7,192.7 417.1,192.9 417.5,193.1 417.9,193.2 418.3,193.3 418.7,193.5 419.1,193.6 419.5,193.7 419.9,193.8 420.3,193.9 420.7,194.0 421.1,194.1 421.5,194.2 421.9,194.4 422.3,194.5 422.7,194.6 423.1,194.8 423.5,194.9 423.9,195.0 424.3,195.1 424.7,195.3 425.1,195.4 425.5,195.5 425.9,195.5 426.3,195.6 426.7,195.6 427.1,195.6 427.5,195.6 427.9,195.6 428.3,195.6 428.7,195.6 429.1,195.6 429.5,195.6 429.9,195.6 430.3,195.6 430.7,195.6 431.1,195.6 431.5,195.6 431.9,195.3 432.3,194.9 432.7,194.5 433.1,194.1 433.5,193.6 433.9,193.0 434.3,192.3 434.7,190.7 435.1,188.7 435.5,186.9 435.9,185.8 436.3,185.0 436.7,184.4 437.1,184.0 437.5,183.8 437.9,184.3 438.3,185.4 438.7,186.5 439.1,187.0 439.5,186.8 439.9,186.1 440.3,185.3 440.7,184.2 441.1,183.2 441.5,182.2 441.9,181.0 442.3,179.6 442.7,178.3 443.1,177.1 443.5,176.2 443.9,175.5 444.3,174.8 444.7,174.2 445.1,173.7 445.5,173.4 445.9,173.3 446.3,173.2 446.7,173.2 447.1,173.2 447.5,173.1 447.9,173.0 448.3,172.9 448.7,172.6 449.1,171.6 449.5,170.2 449.9,168.8 450.3,167.4 450.7,165.8 451.1,164.0 451.5,162.3 451.9,160.8 452.3,159.5 452.7,158.4 453.1,157.4 453.5,156.5 453.9,155.7 454.3,155.0 454.7,154.5 455.1,153.9 455.5,153.3 455.9,152.8 456.3,152.3 456.7,152.0 457.1,151.7 457.5,151.6 457.9,151.6 458.3,151.8 458.7,152.0 459.1,152.3 459.5,152.6 459.9,152.9 460.3,153.3 460.7,153.6 461.1,154.0 461.5,154.3 461.9,154.6 462.3,155.0 462.7,155.4 463.1,155.8 463.5,156.4 463.9,157.0 464.3,157.8 464.7,158.8 465.1,159.9 465.5,161.1 465.9,162.3 466.3,163.8 466.7,165.4 467.1,167.1 467.5,168.8 467.9,170.4 468.3,171.7 468.7,173.0 469.1,174.3 469.5,175.5 469.9,176.6 470.3,177.5 470.7,178.4 471.1,179.2 471.5,180.0 471.9,180.7 472.3,181.4 472.7,181.9 473.1,182.5 473.5,183.0 473.9,183.5 474.3,184.0 474.7,184.5 475.1,184.8 475.5,184.9 475.9,184.9 476.3,184.9 476.7,184.9 477.1,184.9 477.5,184.9 477.9,184.9 478.3,184.9 478.7,184.9 479.1,185.0 479.5,185.4 479.9,186.1 480.3,186.8 480.7,187.4 481.1,187.6 481.5,187.6 481.9,187.5 482.3,187.4 482.7,187.4 483.1,187.3 483.5,187.2 483.9,187.1 484.3,187.1 484.7,187.3 485.1,187.7 485.5,188.3 485.9,188.9 486.3,189.2 486.7,189.3 487.1,189.3 487.5,189.4 487.9,189.4 488.3,189.4 488.7,189.4 489.1,189.4 489.5,189.4 489.9,189.4 490.3,189.5 490.7,189.5 491.1,189.5 491.5,189.5 491.9,189.5 492.3,189.5 492.7,189.5 493.1,189.6 493.5,189.6 493.9,189.6 494.3,189.6 494.7,189.6 495.1,189.6 495.5,189.5 495.9,189.4 496.3,189.3 496.7,189.1 497.1,188.9 497.5,188.7 497.9,188.5 498.3,188.3 498.7,188.0 499.1,187.7 499.5,187.5 499.9,187.2 500.3,186.9 500.7,186.6 501.1,186.3 501.5,186.0 501.9,185.6 502.3,185.1 502.7,184.6 503.1,184.1 503.5,183.5 503.9,183.1 504.3,182.6 504.7,182.2 505.1,181.8 505.5,181.4 505.9,181.1 506.3,180.7 506.7,180.4 507.1,180.0 507.5,179.7 507.9,179.4 508.3,179.0 508.7,178.7 509.1,178.4 509.5,178.1 509.9,177.8 510.3,177.5 510.7,177.2 511.1,176.9 511.5,176.5 511.9,176.1 512.3,175.5 512.7,174.6 513.1,173.5 513.5,172.5 513.9,171.8 514.3,171.6 514.7,171.7 515.1,171.8 515.5,172.0 515.9,172.2 516.3,172.4 516.7,172.6 517.1,172.7 517.5,172.7 517.9,172.3 518.3,171.6 518.7,170.7 519.1,169.8 519.5,169.1 519.9,168.5 520.3,167.9 520.7,167.3 521.1,166.8 521.5,166.4 521.9,166.2 522.3,166.0 522.7,165.8 523.1,165.7 523.5,165.6 523.9,165.6 523.9,165.6" fill="none" stroke="#FFC000" stroke-width="3.7" stroke-linecap="round" stroke-linejoin="round"/>
</g>
<line x1="61.9" x2="61.9" y1="22.4" y2="206.5" stroke="#000" stroke-width="1.25"/>
<line x1="57.9" x2="524.5" y1="202.5" y2="202.5" stroke="#000" stroke-width="1.25"/>
<line x1="57.9" x2="61.9" y1="202.50" y2="202.50" stroke="#000" stroke-width="1.2"/>
<text x="50.9" y="207.10" text-anchor="end" class="tk">0</text>
<line x1="57.9" x2="61.9" y1="180.06" y2="180.06" stroke="#000" stroke-width="1.2"/>
<text x="50.9" y="184.66" text-anchor="end" class="tk">0.1</text>
<line x1="57.9" x2="61.9" y1="157.62" y2="157.62" stroke="#000" stroke-width="1.2"/>
<text x="50.9" y="162.22" text-anchor="end" class="tk">0.2</text>
<line x1="57.9" x2="61.9" y1="135.19" y2="135.19" stroke="#000" stroke-width="1.2"/>
<text x="50.9" y="139.79" text-anchor="end" class="tk">0.3</text>
<line x1="57.9" x2="61.9" y1="112.75" y2="112.75" stroke="#000" stroke-width="1.2"/>
<text x="50.9" y="117.35" text-anchor="end" class="tk">0.4</text>
<line x1="57.9" x2="61.9" y1="90.31" y2="90.31" stroke="#000" stroke-width="1.2"/>
<text x="50.9" y="94.91" text-anchor="end" class="tk">0.5</text>
<line x1="57.9" x2="61.9" y1="67.88" y2="67.88" stroke="#000" stroke-width="1.2"/>
<text x="50.9" y="72.47" text-anchor="end" class="tk">0.6</text>
<line x1="57.9" x2="61.9" y1="45.44" y2="45.44" stroke="#000" stroke-width="1.2"/>
<text x="50.9" y="50.04" text-anchor="end" class="tk">0.7</text>
<line x1="57.9" x2="61.9" y1="23.00" y2="23.00" stroke="#000" stroke-width="1.2"/>
<text x="50.9" y="27.60" text-anchor="end" class="tk">0.8</text>
<line x1="61.90" x2="61.90" y1="202.5" y2="206.5" stroke="#000" stroke-width="1.2"/>
<text x="62.20" y="221.6" text-anchor="middle" class="tk">3600</text>
<line x1="138.90" x2="138.90" y1="202.5" y2="206.5" stroke="#000" stroke-width="1.2"/>
<text x="139.20" y="221.6" text-anchor="middle" class="tk">3100</text>
<line x1="215.90" x2="215.90" y1="202.5" y2="206.5" stroke="#000" stroke-width="1.2"/>
<text x="216.20" y="221.6" text-anchor="middle" class="tk">2600</text>
<line x1="292.90" x2="292.90" y1="202.5" y2="206.5" stroke="#000" stroke-width="1.2"/>
<text x="293.20" y="221.6" text-anchor="middle" class="tk">2100</text>
<line x1="369.90" x2="369.90" y1="202.5" y2="206.5" stroke="#000" stroke-width="1.2"/>
<text x="370.20" y="221.6" text-anchor="middle" class="tk">1600</text>
<line x1="446.90" x2="446.90" y1="202.5" y2="206.5" stroke="#000" stroke-width="1.2"/>
<text x="447.20" y="221.6" text-anchor="middle" class="tk">1100</text>
<line x1="523.90" x2="523.90" y1="202.5" y2="206.5" stroke="#000" stroke-width="1.2"/>
<text x="524.20" y="221.6" text-anchor="middle" class="tk">600</text>
<rect x="96" y="14" width="146.7" height="83.9" fill="#fff" stroke="#BFBFBF" stroke-width="1"/>
<line x1="116.5" x2="143" y1="24.1" y2="24.1" stroke="#4472C4" stroke-width="3.3" stroke-linecap="round"/>
<text x="146.4" y="28.9" class="lg">NMMO 50%</text>
<line x1="116.5" x2="143" y1="45.2" y2="45.2" stroke="#ED7D31" stroke-width="3.3" stroke-linecap="round"/>
<text x="146.4" y="50.0" class="lg">Water</text>
<line x1="116.5" x2="143" y1="66.3" y2="66.3" stroke="#548235" stroke-width="3.3" stroke-linecap="round"/>
<text x="146.4" y="71.1" class="lg">Propyl Gallate</text>
<line x1="116.5" x2="143" y1="87.4" y2="87.4" stroke="#FFC000" stroke-width="3.3" stroke-linecap="round"/>
<text x="146.4" y="92.2" class="lg">Pulp</text>
<text class="ttl" transform="translate(24.0,113.8) rotate(-90)" text-anchor="middle">Absorbance</text>
<text class="ttl" x="289" y="241.9" text-anchor="middle">Wavenumber (cm<tspan class="sup" dy="-4.6">−1</tspan><tspan dy="4.6">)</tspan></text>
<text class="pl" x="18.4" y="224.8">(a)</text>
<line x1="73.7" x2="520.7" y1="470.82" y2="470.82" stroke="#D9D9D9" stroke-width="1.1"/>
<line x1="73.7" x2="520.7" y1="431.83" y2="431.83" stroke="#D9D9D9" stroke-width="1.1"/>
<line x1="73.7" x2="520.7" y1="392.85" y2="392.85" stroke="#D9D9D9" stroke-width="1.1"/>
<line x1="73.7" x2="520.7" y1="353.87" y2="353.87" stroke="#D9D9D9" stroke-width="1.1"/>
<line x1="73.7" x2="520.7" y1="314.88" y2="314.88" stroke="#D9D9D9" stroke-width="1.1"/>
<line x1="73.7" x2="520.7" y1="275.90" y2="275.90" stroke="#D9D9D9" stroke-width="1.1"/>
<path d="M77.2,480.9 78.2,480.9 79.2,481.0 80.2,481.0 81.2,481.0 82.2,481.1 83.2,481.1 84.2,481.1 85.2,481.1 86.2,481.2 87.2,481.2 88.2,481.2 89.2,481.2 90.2,481.3 91.2,481.3 92.2,481.3 93.2,481.3 94.2,481.3 95.2,481.4 96.2,481.4 97.2,481.4 98.2,481.4 99.2,481.4 100.2,481.4 101.2,481.5 102.2,481.5 103.2,481.5 104.2,481.5 105.2,481.5 106.2,481.5 107.2,481.5 108.2,481.5 109.2,481.6 110.2,481.6 111.2,481.6 112.2,481.6 113.2,481.6 114.2,481.6 115.2,481.6 116.2,481.6 117.2,481.6 118.2,481.6 119.2,481.6 120.2,481.6 121.2,481.6 122.2,481.6 123.2,481.6 124.2,481.6 125.2,481.6 126.2,481.6 127.2,481.6 128.2,481.6 129.2,481.6 130.2,481.6 131.2,481.5 132.2,481.5 133.2,481.5 134.2,481.5 135.2,481.5 136.2,481.5 137.2,481.5 138.2,481.5 139.2,481.5 140.2,481.4 141.2,481.4 142.2,481.4 143.2,481.4 144.2,481.4 145.2,481.4 146.2,481.3 147.2,481.3 148.2,481.3 149.2,481.3 150.2,481.2 151.2,481.2 152.2,481.2 153.2,481.2 154.2,481.2 155.2,481.1 156.2,481.1 157.2,481.1 158.2,481.1 159.2,481.0 160.2,481.0 161.2,481.0 162.2,480.9 163.2,480.8 164.2,480.8 165.2,480.7 166.2,480.6 167.2,480.5 168.2,480.4 169.2,480.3 170.2,480.2 171.2,480.1 172.2,480.0 173.2,479.9 174.2,479.8 175.2,479.7 176.2,479.7 177.2,479.6 178.2,479.5 179.2,479.4 180.2,479.4 181.2,479.3 182.2,479.2 183.2,479.2 184.2,479.1 185.2,479.0 186.2,478.9 187.2,478.8 188.2,478.7 189.2,478.6 190.2,478.5 191.2,478.3 192.2,478.2 193.2,478.0 194.2,477.8 195.2,477.5 196.2,477.3 197.2,477.1 198.2,476.8 199.2,476.5 200.2,476.2 201.2,475.9 202.2,475.6 203.2,475.2 204.2,474.9 205.2,474.5 206.2,474.0 207.2,473.6 208.2,473.1 209.2,472.6 210.2,472.0 211.2,471.5 212.2,470.9 213.2,470.3 214.2,469.7 215.2,469.1 216.2,468.5 217.2,467.8 218.2,467.2 219.2,466.4 220.2,465.7 221.2,464.9 222.2,464.1 223.2,463.3 224.2,462.5 225.2,461.6 226.2,460.7 227.2,459.8 228.2,458.9 229.2,458.0 230.2,457.0 231.2,456.0 232.2,455.0 233.2,454.0 234.2,452.9 235.2,451.8 236.2,450.7 237.2,449.6 238.2,448.4 239.2,447.1 240.2,445.8 241.2,444.5 242.2,443.1 243.2,441.6 244.2,440.0 245.2,438.4 246.2,436.7 247.2,434.9 248.2,433.2 249.2,431.4 250.2,429.5 251.2,427.7 252.2,425.9 253.2,424.0 254.2,422.2 255.2,420.3 256.2,418.4 257.2,416.5 258.2,414.5 259.2,412.5 260.2,410.5 261.2,408.5 262.2,406.6 263.2,404.6 264.2,402.7 265.2,400.9 266.2,399.0 267.2,397.1 268.2,395.3 269.2,393.5 270.2,391.6 271.2,389.8 272.2,387.9 273.2,386.1 274.2,384.2 275.2,382.3 276.2,380.3 277.2,378.2 278.2,376.1 279.2,374.1 280.2,372.1 281.2,370.2 282.2,368.4 283.2,366.8 284.2,365.4 285.2,364.0 286.2,362.7 287.2,361.4 288.2,360.3 289.2,359.3 290.2,358.6 291.2,358.1 292.2,357.6 293.2,357.3 294.2,357.0 295.2,356.7 296.2,356.6 297.2,356.7 298.2,357.0 299.2,357.6 300.2,358.3 301.2,359.2 302.2,360.2 303.2,361.1 304.2,362.1 305.2,363.3 306.2,364.7 307.2,366.2 308.2,367.8 309.2,369.4 310.2,371.1 311.2,372.8 312.2,374.6 313.2,376.6 314.2,378.6 315.2,380.7 316.2,382.8 317.2,384.9 318.2,387.1 319.2,389.3 320.2,391.5 321.2,393.8 322.2,396.1 323.2,398.3 324.2,400.7 325.2,403.0 326.2,405.3 327.2,407.6 328.2,409.9 329.2,412.2 330.2,414.5 331.2,416.8 332.2,419.0 333.2,421.2 334.2,423.3 335.2,425.3 336.2,427.2 337.2,429.1 338.2,431.0 339.2,432.8 340.2,434.5 341.2,436.2 342.2,437.8 343.2,439.4 344.2,440.9 345.2,442.2 346.2,443.5 347.2,444.8 348.2,446.0 349.2,447.2 350.2,448.3 351.2,449.4 352.2,450.4 353.2,451.4 354.2,452.4 355.2,453.3 356.2,454.3 357.2,455.1 358.2,456.0 359.2,456.8 360.2,457.7 361.2,458.5 362.2,459.2 363.2,460.0 364.2,460.7 365.2,461.4 366.2,462.1 367.2,462.8 368.2,463.4 369.2,464.0 370.2,464.5 371.2,465.1 372.2,465.5 373.2,466.0 374.2,466.5 375.2,466.9 376.2,467.4 377.2,467.8 378.2,468.2 379.2,468.5 380.2,468.9 381.2,469.2 382.2,469.6 383.2,469.9 384.2,470.2 385.2,470.5 386.2,470.7 387.2,471.0 388.2,471.3 389.2,471.5 390.2,471.7 391.2,472.0 392.2,472.2 393.2,472.4 394.2,472.6 395.2,472.8 396.2,473.0 397.2,473.2 398.2,473.4 399.2,473.5 400.2,473.7 401.2,473.9 402.2,474.1 403.2,474.2 404.2,474.4 405.2,474.5 406.2,474.7 407.2,474.8 408.2,474.9 409.2,475.0 410.2,475.1 411.2,475.2 412.2,475.4 413.2,475.5 414.2,475.6 415.2,475.7 416.2,475.8 417.2,475.8 418.2,475.9 419.2,476.0 420.2,476.0 421.2,476.1 422.2,476.1 423.2,476.1 424.2,476.2 425.2,476.2 426.2,476.2 427.2,476.2 428.2,476.2 429.2,476.3 430.2,476.3 431.2,476.3 432.2,476.3 433.2,476.3 434.2,476.3 435.2,476.3 436.2,476.3 437.2,476.3 438.2,476.2 439.2,476.2 440.2,476.1 441.2,476.1 442.2,476.0 443.2,475.9 444.2,475.8 445.2,475.8 446.2,475.7 447.2,475.6 448.2,475.5 449.2,475.4 450.2,475.3 451.2,475.1 452.2,475.0 453.2,474.8 454.2,474.6 455.2,474.5 456.2,474.3 457.2,474.1 458.2,473.8 459.2,473.6 460.2,473.4 461.2,473.1 462.2,472.9 463.2,472.5 464.2,472.2 465.2,471.9 466.2,471.5 467.2,471.1 468.2,470.6 469.2,470.2 470.2,469.7 471.2,469.3 472.2,468.8 473.2,468.3 474.2,467.8 475.2,467.3 476.2,466.7 477.2,466.2 478.2,465.6 479.2,465.0 480.2,464.3 481.2,463.7 482.2,463.0 483.2,462.3 484.2,461.6 485.2,460.8 486.2,460.1 487.2,459.3 488.2,458.5 489.2,457.6 490.2,456.7 491.2,455.8 492.2,454.8 493.2,453.8 494.2,452.7 495.2,451.7 496.2,450.6 497.2,449.5 498.2,448.5 499.2,447.4 500.2,446.3 501.2,445.1 502.2,444.0 503.2,442.8 504.2,441.5 505.2,440.3 506.2,439.2 507.2,438.0 508.2,437.0 509.2,435.9 510.2,434.9 511.2,433.9 512.2,433.0 513.2,432.3 514.2,431.6 515.2,430.9 516.2,430.4 517.2,429.9 517.4,429.8" fill="none" stroke="#4472C4" stroke-width="3.3" stroke-linecap="round" stroke-linejoin="round"/>
<path d="M77.2,481.3 81.2,481.3 85.2,481.3 89.2,481.3 93.2,481.3 97.2,481.3 101.2,481.3 105.2,481.3 109.2,481.3 113.2,481.3 117.2,481.3 121.2,481.3 125.2,481.3 129.2,481.3 133.2,481.3 137.2,481.3 141.2,481.3 145.2,481.3 149.2,481.3 153.2,481.3 157.2,481.3 161.2,481.3 165.2,481.3 169.2,481.3 173.2,481.3 177.2,481.3 181.2,481.3 185.2,481.3 189.2,481.3 193.2,481.3 197.2,481.3 201.2,481.3 205.2,481.3 209.2,481.3 213.2,481.3 217.2,481.3 221.2,481.3 225.2,481.3 229.2,481.3 233.2,481.3 237.2,481.3 241.2,481.3 245.2,481.3 249.2,481.3 253.2,481.3 257.2,481.3 261.2,481.3 265.2,481.3 269.2,481.3 273.2,481.3 277.2,481.3 281.2,481.3 285.2,481.3 289.2,481.3 293.2,481.3 297.2,481.3 301.2,481.3 305.2,481.3 309.2,481.3 313.2,481.3 317.2,481.3 321.2,481.3 325.2,481.3 329.2,481.3 333.2,481.3 337.2,481.2 341.2,481.2 345.2,481.2 349.2,481.2 353.2,481.2 357.2,481.2 361.2,481.2 365.2,481.2 369.2,481.1 373.2,481.1 377.2,481.1 381.2,481.1 385.2,481.1 389.2,481.1 393.2,481.0 397.2,481.0 401.2,481.0 405.2,481.0 409.2,480.9 413.2,480.9 417.2,480.9 421.2,480.8 425.2,480.8 429.2,480.7 433.2,480.7 437.2,480.6 441.2,480.6 445.2,480.5 449.2,480.5 453.2,480.5 457.2,480.4 461.2,480.4 465.2,480.4 469.2,480.3 473.2,480.3 477.2,480.3 481.2,480.3 485.2,480.2 489.2,480.2 493.2,480.2 497.2,480.2 501.2,480.2 505.2,480.1 509.2,480.1 513.2,480.1 517.2,480.1 517.4,480.1" fill="none" stroke="#ED7D31" stroke-width="3.3" stroke-linecap="round" stroke-linejoin="round"/>
<path d="M77.2,306.1 78.2,306.9 79.2,307.7 80.2,308.5 81.2,309.3 82.2,310.1 83.2,310.9 84.2,311.7 85.2,312.4 86.2,313.2 87.2,314.0 88.2,314.8 89.2,315.5 90.2,316.3 91.2,317.1 92.2,317.8 93.2,318.6 94.2,319.3 95.2,320.1 96.2,320.8 97.2,321.6 98.2,322.3 99.2,323.0 100.2,323.8 101.2,324.5 102.2,325.3 103.2,326.0 104.2,326.7 105.2,327.5 106.2,328.2 107.2,328.9 108.2,329.7 109.2,330.4 110.2,331.1 111.2,331.8 112.2,332.5 113.2,333.3 114.2,333.9 115.2,334.6 116.2,335.3 117.2,336.0 118.2,336.6 119.2,337.3 120.2,337.9 121.2,338.6 122.2,339.2 123.2,339.8 124.2,340.3 125.2,340.9 126.2,341.5 127.2,342.1 128.2,342.6 129.2,343.2 130.2,343.7 131.2,344.3 132.2,344.8 133.2,345.3 134.2,345.9 135.2,346.4 136.2,346.9 137.2,347.4 138.2,347.9 139.2,348.4 140.2,348.9 141.2,349.3 142.2,349.8 143.2,350.3 144.2,350.7 145.2,351.2 146.2,351.6 147.2,352.0 148.2,352.5 149.2,352.9 150.2,353.3 151.2,353.7 152.2,354.1 153.2,354.4 154.2,354.8 155.2,355.2 156.2,355.5 157.2,355.9 158.2,356.2 159.2,356.6 160.2,356.9 161.2,357.2 162.2,357.6 163.2,357.9 164.2,358.2 165.2,358.5 166.2,358.9 167.2,359.2 168.2,359.5 169.2,359.9 170.2,360.2 171.2,360.5 172.2,360.9 173.2,361.2 174.2,361.6 175.2,362.0 176.2,362.3 177.2,362.7 178.2,363.1 179.2,363.4 180.2,363.8 181.2,364.2 182.2,364.6 183.2,364.9 184.2,365.3 185.2,365.7 186.2,366.1 187.2,366.5 188.2,366.8 189.2,367.2 190.2,367.6 191.2,367.9 192.2,368.3 193.2,368.7 194.2,369.1 195.2,369.5 196.2,369.9 197.2,370.3 198.2,370.7 199.2,371.1 200.2,371.5 201.2,371.9 202.2,372.3 203.2,372.7 204.2,373.1 205.2,373.5 206.2,373.8 207.2,374.2 208.2,374.6 209.2,374.9 210.2,375.2 211.2,375.6 212.2,375.9 213.2,376.2 214.2,376.5 215.2,376.7 216.2,377.0 217.2,377.3 218.2,377.5 219.2,377.8 220.2,378.0 221.2,378.2 222.2,378.5 223.2,378.7 224.2,378.9 225.2,379.2 226.2,379.4 227.2,379.6 228.2,379.8 229.2,380.0 230.2,380.2 231.2,380.4 232.2,380.6 233.2,380.7 234.2,380.9 235.2,381.1 236.2,381.3 237.2,381.4 238.2,381.6 239.2,381.7 240.2,381.9 241.2,382.0 242.2,382.2 243.2,382.3 244.2,382.4 245.2,382.5 246.2,382.6 247.2,382.8 248.2,382.9 249.2,383.0 250.2,383.0 251.2,383.1 252.2,383.2 253.2,383.3 254.2,383.4 255.2,383.5 256.2,383.6 257.2,383.8 258.2,383.9 259.2,384.0 260.2,384.2 261.2,384.3 262.2,384.5 263.2,384.6 264.2,384.8 265.2,385.0 266.2,385.2 267.2,385.4 268.2,385.7 269.2,385.9 270.2,386.1 271.2,386.4 272.2,386.6 273.2,386.9 274.2,387.2 275.2,387.4 276.2,387.7 277.2,387.9 278.2,388.2 279.2,388.5 280.2,388.7 281.2,389.0 282.2,389.3 283.2,389.6 284.2,389.9 285.2,390.2 286.2,390.5 287.2,390.8 288.2,391.1 289.2,391.4 290.2,391.7 291.2,392.0 292.2,392.3 293.2,392.5 294.2,392.8 295.2,393.1 296.2,393.3 297.2,393.6 298.2,393.8 299.2,394.0 300.2,394.3 301.2,394.5 302.2,394.8 303.2,395.0 304.2,395.2 305.2,395.5 306.2,395.7 307.2,395.9 308.2,396.1 309.2,396.3 310.2,396.5 311.2,396.7 312.2,396.9 313.2,397.0 314.2,397.2 315.2,397.3 316.2,397.4 317.2,397.5 318.2,397.6 319.2,397.7 320.2,397.7 321.2,397.8 322.2,397.9 323.2,398.0 324.2,398.0 325.2,398.1 326.2,398.1 327.2,398.1 328.2,398.2 329.2,398.2 330.2,398.2 331.2,398.2 332.2,398.1 333.2,398.0 334.2,397.8 335.2,397.6 336.2,397.4 337.2,397.2 338.2,397.0 339.2,396.7 340.2,396.5 341.2,396.2 342.2,395.8 343.2,395.5 344.2,395.0 345.2,394.6 346.2,394.1 347.2,393.5 348.2,393.0 349.2,392.4 350.2,391.8 351.2,391.2 352.2,390.5 353.2,389.7 354.2,388.9 355.2,388.1 356.2,387.2 357.2,386.3 358.2,385.3 359.2,384.3 360.2,383.2 361.2,382.2 362.2,381.0 363.2,379.8 364.2,378.6 365.2,377.2 366.2,375.9 367.2,374.4 368.2,372.9 369.2,371.4 370.2,369.8 371.2,368.2 372.2,366.5 373.2,364.6 374.2,362.7 375.2,360.6 376.2,358.6 377.2,356.4 378.2,354.3 379.2,352.2 380.2,350.1 381.2,348.1 382.2,346.0 383.2,343.9 384.2,341.7 385.2,339.5 386.2,337.5 387.2,335.6 388.2,333.9 389.2,332.4 390.2,330.9 391.2,329.5 392.2,328.2 393.2,327.0 394.2,326.0 395.2,325.1 396.2,324.5 397.2,323.9 398.2,323.5 399.2,323.1 400.2,322.9 401.2,322.8 402.2,323.0 403.2,323.3 404.2,323.7 405.2,324.2 406.2,324.8 407.2,325.6 408.2,326.6 409.2,327.7 410.2,328.8 411.2,330.0 412.2,331.2 413.2,332.5 414.2,333.9 415.2,335.4 416.2,337.0 417.2,338.6 418.2,340.2 419.2,341.8 420.2,343.4 421.2,344.9 422.2,346.4 423.2,347.8 424.2,349.3 425.2,350.8 426.2,352.2 427.2,353.7 428.2,355.1 429.2,356.5 430.2,357.9 431.2,359.3 432.2,360.7 433.2,362.0 434.2,363.2 435.2,364.5 436.2,365.7 437.2,366.8 438.2,368.0 439.2,369.1 440.2,370.2 441.2,371.3 442.2,372.4 443.2,373.5 444.2,374.5 445.2,375.6 446.2,376.6 447.2,377.6 448.2,378.6 449.2,379.6 450.2,380.6 451.2,381.6 452.2,382.5 453.2,383.5 454.2,384.4 455.2,385.4 456.2,386.3 457.2,387.2 458.2,388.1 459.2,389.0 460.2,389.9 461.2,390.8 462.2,391.6 463.2,392.5 464.2,393.4 465.2,394.2 466.2,395.1 467.2,395.9 468.2,396.7 469.2,397.5 470.2,398.3 471.2,399.0 472.2,399.8 473.2,400.4 474.2,401.1 475.2,401.7 476.2,402.3 477.2,402.9 478.2,403.4 479.2,404.0 480.2,404.5 481.2,405.0 482.2,405.5 483.2,406.0 484.2,406.5 485.2,407.0 486.2,407.5 487.2,408.1 488.2,408.6 489.2,409.1 490.2,409.6 491.2,410.2 492.2,410.7 493.2,411.3 494.2,411.9 495.2,412.5 496.2,413.1 497.2,413.7 498.2,414.3 499.2,414.9 500.2,415.5 501.2,416.0 502.2,416.6 503.2,417.2 504.2,417.7 505.2,418.3 506.2,418.8 507.2,419.3 508.2,419.9 509.2,420.4 510.2,421.0 511.2,421.6 512.2,422.1 513.2,422.7 514.2,423.3 515.2,423.8 516.2,424.4 517.2,425.0 517.4,425.1" fill="none" stroke="#548235" stroke-width="3.3" stroke-linecap="round" stroke-linejoin="round"/>
<path d="M77.2,455.5 78.2,455.7 79.2,456.0 80.2,456.2 81.2,456.5 82.2,456.7 83.2,457.0 84.2,457.2 85.2,457.4 86.2,457.7 87.2,457.9 88.2,458.1 89.2,458.4 90.2,458.6 91.2,458.8 92.2,459.0 93.2,459.3 94.2,459.5 95.2,459.7 96.2,459.9 97.2,460.1 98.2,460.3 99.2,460.5 100.2,460.7 101.2,460.9 102.2,461.1 103.2,461.4 104.2,461.6 105.2,461.8 106.2,462.0 107.2,462.2 108.2,462.4 109.2,462.6 110.2,462.8 111.2,463.0 112.2,463.2 113.2,463.4 114.2,463.6 115.2,463.8 116.2,463.9 117.2,464.1 118.2,464.3 119.2,464.4 120.2,464.5 121.2,464.7 122.2,464.8 123.2,464.9 124.2,465.0 125.2,465.0 126.2,465.1 127.2,465.2 128.2,465.3 129.2,465.4 130.2,465.4 131.2,465.5 132.2,465.6 133.2,465.7 134.2,465.7 135.2,465.8 136.2,465.9 137.2,465.9 138.2,466.0 139.2,466.0 140.2,466.1 141.2,466.1 142.2,466.1 143.2,466.2 144.2,466.2 145.2,466.2 146.2,466.2 147.2,466.2 148.2,466.2 149.2,466.2 150.2,466.1 151.2,466.1 152.2,466.0 153.2,465.9 154.2,465.8 155.2,465.8 156.2,465.7 157.2,465.5 158.2,465.4 159.2,465.3 160.2,465.2 161.2,465.1 162.2,464.9 163.2,464.8 164.2,464.6 165.2,464.5 166.2,464.3 167.2,464.2 168.2,464.0 169.2,463.9 170.2,463.7 171.2,463.6 172.2,463.4 173.2,463.3 174.2,463.1 175.2,463.0 176.2,462.8 177.2,462.7 178.2,462.5 179.2,462.4 180.2,462.2 181.2,462.0 182.2,461.8 183.2,461.6 184.2,461.4 185.2,461.2 186.2,461.0 187.2,460.8 188.2,460.6 189.2,460.4 190.2,460.2 191.2,459.9 192.2,459.7 193.2,459.4 194.2,459.1 195.2,458.8 196.2,458.6 197.2,458.3 198.2,457.9 199.2,457.6 200.2,457.3 201.2,457.0 202.2,456.6 203.2,456.3 204.2,456.0 205.2,455.6 206.2,455.3 207.2,454.9 208.2,454.6 209.2,454.2 210.2,453.8 211.2,453.5 212.2,453.1 213.2,452.8 214.2,452.4 215.2,452.1 216.2,451.7 217.2,451.4 218.2,451.0 219.2,450.7 220.2,450.3 221.2,449.9 222.2,449.6 223.2,449.2 224.2,448.8 225.2,448.5 226.2,448.1 227.2,447.7 228.2,447.3 229.2,446.9 230.2,446.6 231.2,446.2 232.2,445.8 233.2,445.4 234.2,445.0 235.2,444.6 236.2,444.2 237.2,443.8 238.2,443.4 239.2,443.0 240.2,442.6 241.2,442.2 242.2,441.8 243.2,441.3 244.2,440.9 245.2,440.5 246.2,440.1 247.2,439.7 248.2,439.2 249.2,438.8 250.2,438.4 251.2,437.9 252.2,437.5 253.2,437.0 254.2,436.6 255.2,436.1 256.2,435.7 257.2,435.2 258.2,434.8 259.2,434.3 260.2,433.8 261.2,433.4 262.2,432.9 263.2,432.4 264.2,431.9 265.2,431.4 266.2,430.9 267.2,430.5 268.2,429.9 269.2,429.4 270.2,428.9 271.2,428.3 272.2,427.8 273.2,427.2 274.2,426.7 275.2,426.1 276.2,425.5 277.2,425.0 278.2,424.4 279.2,423.8 280.2,423.2 281.2,422.6 282.2,422.1 283.2,421.5 284.2,420.9 285.2,420.4 286.2,419.8 287.2,419.3 288.2,418.7 289.2,418.2 290.2,417.7 291.2,417.2 292.2,416.7 293.2,416.2 294.2,415.7 295.2,415.2 296.2,414.7 297.2,414.2 298.2,413.7 299.2,413.2 300.2,412.8 301.2,412.3 302.2,411.9 303.2,411.6 304.2,411.3 305.2,411.0 306.2,410.7 307.2,410.5 308.2,410.2 309.2,409.9 310.2,409.7 311.2,409.5 312.2,409.3 313.2,409.1 314.2,408.9 315.2,408.8 316.2,408.7 317.2,408.7 318.2,408.7 319.2,408.7 320.2,408.7 321.2,408.6 322.2,408.6 323.2,408.6 324.2,408.6 325.2,408.6 326.2,408.6 327.2,408.6 328.2,408.6 329.2,408.6 330.2,408.6 331.2,408.6 332.2,408.6 333.2,408.7 334.2,408.7 335.2,408.8 336.2,408.9 337.2,409.0 338.2,409.0 339.2,409.1 340.2,409.2 341.2,409.3 342.2,409.4 343.2,409.5 344.2,409.5 345.2,409.6 346.2,409.6 347.2,409.7 348.2,409.7 349.2,409.8 350.2,409.8 351.2,409.9 352.2,409.9 353.2,409.9 354.2,410.0 355.2,410.0 356.2,410.0 357.2,410.1 358.2,410.1 359.2,410.2 360.2,410.2 361.2,410.2 362.2,410.3 363.2,410.3 364.2,410.3 365.2,410.4 366.2,410.4 367.2,410.5 368.2,410.5 369.2,410.6 370.2,410.7 371.2,410.7 372.2,410.8 373.2,410.9 374.2,411.0 375.2,411.0 376.2,411.1 377.2,411.2 378.2,411.4 379.2,411.5 380.2,411.6 381.2,411.7 382.2,411.8 383.2,412.0 384.2,412.1 385.2,412.2 386.2,412.4 387.2,412.5 388.2,412.7 389.2,412.8 390.2,413.0 391.2,413.2 392.2,413.4 393.2,413.5 394.2,413.7 395.2,413.8 396.2,414.0 397.2,414.1 398.2,414.3 399.2,414.4 400.2,414.5 401.2,414.7 402.2,414.8 403.2,414.9 404.2,415.0 405.2,415.2 406.2,415.3 407.2,415.4 408.2,415.5 409.2,415.7 410.2,415.8 411.2,415.9 412.2,416.0 413.2,416.1 414.2,416.3 415.2,416.4 416.2,416.5 417.2,416.6 418.2,416.7 419.2,416.9 420.2,417.0 421.2,417.1 422.2,417.3 423.2,417.4 424.2,417.5 425.2,417.7 426.2,417.8 427.2,418.0 428.2,418.1 429.2,418.3 430.2,418.4 431.2,418.5 432.2,418.7 433.2,418.8 434.2,418.9 435.2,419.0 436.2,419.1 437.2,419.2 438.2,419.2 439.2,419.3 440.2,419.4 441.2,419.5 442.2,419.5 443.2,419.6 444.2,419.6 445.2,419.7 446.2,419.8 447.2,419.8 448.2,419.8 449.2,419.9 450.2,419.9 451.2,420.0 452.2,420.0 453.2,420.1 454.2,420.1 455.2,420.2 456.2,420.2 457.2,420.2 458.2,420.3 459.2,420.3 460.2,420.3 461.2,420.3 462.2,420.3 463.2,420.3 464.2,420.2 465.2,420.2 466.2,420.2 467.2,420.1 468.2,420.1 469.2,420.0 470.2,420.0 471.2,419.9 472.2,419.9 473.2,419.8 474.2,419.8 475.2,419.7 476.2,419.7 477.2,419.6 478.2,419.6 479.2,419.5 480.2,419.4 481.2,419.4 482.2,419.3 483.2,419.2 484.2,419.1 485.2,419.0 486.2,418.9 487.2,418.8 488.2,418.6 489.2,418.4 490.2,418.2 491.2,417.9 492.2,417.7 493.2,417.4 494.2,417.2 495.2,416.9 496.2,416.7 497.2,416.4 498.2,416.1 499.2,415.8 500.2,415.6 501.2,415.3 502.2,415.0 503.2,414.8 504.2,414.5 505.2,414.2 506.2,413.9 507.2,413.7 508.2,413.4 509.2,413.1 510.2,412.8 511.2,412.6 512.2,412.3 513.2,412.0 514.2,411.8 515.2,411.5 516.2,411.2 517.2,411.0 517.4,410.9" fill="none" stroke="#FFC000" stroke-width="3.3" stroke-linecap="round" stroke-linejoin="round"/>
<line x1="73.7" x2="73.7" y1="275.29999999999995" y2="513.8" stroke="#000" stroke-width="1.25"/>
<line x1="69.7" x2="520.7" y1="509.8" y2="509.8" stroke="#000" stroke-width="1.25"/>
<line x1="69.7" x2="73.7" y1="509.80" y2="509.80" stroke="#000" stroke-width="1.2"/>
<text x="63.2" y="514.40" text-anchor="end" class="tk">0</text>
<line x1="69.7" x2="73.7" y1="470.82" y2="470.82" stroke="#000" stroke-width="1.2"/>
<text x="63.2" y="475.42" text-anchor="end" class="tk">0.05</text>
<line x1="69.7" x2="73.7" y1="431.83" y2="431.83" stroke="#000" stroke-width="1.2"/>
<text x="63.2" y="436.43" text-anchor="end" class="tk">0.1</text>
<line x1="69.7" x2="73.7" y1="392.85" y2="392.85" stroke="#000" stroke-width="1.2"/>
<text x="63.2" y="397.45" text-anchor="end" class="tk">0.15</text>
<line x1="69.7" x2="73.7" y1="353.87" y2="353.87" stroke="#000" stroke-width="1.2"/>
<text x="63.2" y="358.47" text-anchor="end" class="tk">0.2</text>
<line x1="69.7" x2="73.7" y1="314.88" y2="314.88" stroke="#000" stroke-width="1.2"/>
<text x="63.2" y="319.48" text-anchor="end" class="tk">0.25</text>
<line x1="69.7" x2="73.7" y1="275.90" y2="275.90" stroke="#000" stroke-width="1.2"/>
<text x="63.2" y="280.50" text-anchor="end" class="tk">0.3</text>
<line x1="73.70" x2="73.70" y1="509.8" y2="513.8" stroke="#000" stroke-width="1.2"/>
<text x="77.20" y="528.8" text-anchor="middle" class="tk">1150</text>
<line x1="136.60" x2="136.60" y1="509.8" y2="513.8" stroke="#000" stroke-width="1.2"/>
<text x="140.10" y="528.8" text-anchor="middle" class="tk">1140</text>
<line x1="199.50" x2="199.50" y1="509.8" y2="513.8" stroke="#000" stroke-width="1.2"/>
<text x="203.00" y="528.8" text-anchor="middle" class="tk">1130</text>
<line x1="262.40" x2="262.40" y1="509.8" y2="513.8" stroke="#000" stroke-width="1.2"/>
<text x="265.90" y="528.8" text-anchor="middle" class="tk">1120</text>
<line x1="325.30" x2="325.30" y1="509.8" y2="513.8" stroke="#000" stroke-width="1.2"/>
<text x="328.80" y="528.8" text-anchor="middle" class="tk">1110</text>
<line x1="388.20" x2="388.20" y1="509.8" y2="513.8" stroke="#000" stroke-width="1.2"/>
<text x="391.70" y="528.8" text-anchor="middle" class="tk">1100</text>
<line x1="451.10" x2="451.10" y1="509.8" y2="513.8" stroke="#000" stroke-width="1.2"/>
<text x="454.60" y="528.8" text-anchor="middle" class="tk">1090</text>
<line x1="514.00" x2="514.00" y1="509.8" y2="513.8" stroke="#000" stroke-width="1.2"/>
<text x="517.50" y="528.8" text-anchor="middle" class="tk">1080</text>
<rect x="154.9" y="280.8" width="147.6" height="66.2" fill="#fff" stroke="#BFBFBF" stroke-width="1"/>
<line x1="177.2" x2="202.2" y1="289.2" y2="289.2" stroke="#4472C4" stroke-width="3.4" stroke-linecap="round"/>
<text x="205.8" y="294.0" class="lg">NMMO 50%</text>
<line x1="177.2" x2="202.2" y1="305.8" y2="305.8" stroke="#ED7D31" stroke-width="3.4" stroke-linecap="round"/>
<text x="205.8" y="310.6" class="lg">Water</text>
<line x1="177.2" x2="202.2" y1="322.4" y2="322.4" stroke="#548235" stroke-width="3.4" stroke-linecap="round"/>
<text x="205.8" y="327.2" class="lg">Propyl Gallate</text>
<line x1="177.2" x2="202.2" y1="339.0" y2="339.0" stroke="#FFC000" stroke-width="3.4" stroke-linecap="round"/>
<text x="205.8" y="343.8" class="lg">Pulp</text>
<text class="ttl" transform="translate(26.0,376.5) rotate(-90)" text-anchor="middle">Absorbance</text>
<text class="ttl" x="299" y="557.3" text-anchor="middle">Wavenumber (cm<tspan class="sup" dy="-4.6">−1</tspan><tspan dy="4.6">)</tspan></text>
<text class="pl" x="16.8" y="536.2">(b)</text>
</svg>
</body></html>
